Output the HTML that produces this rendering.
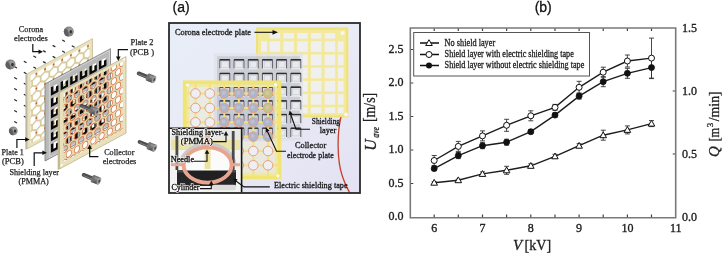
<!DOCTYPE html>
<html><head><meta charset="utf-8"><style>
html,body{margin:0;padding:0;background:#fff;}
body{width:725px;height:256px;overflow:hidden;position:relative;}
svg{position:absolute;left:0;top:0;}
.serif{font-family:"Liberation Serif",serif;}
.sans{font-family:"Liberation Sans","DejaVu Sans",sans-serif;}
</style></head><body>
<svg width="725" height="256" viewBox="0 0 725 256">
<rect width="725" height="256" fill="#fff"/>
<g id="diagram">
<g id="dots"><path d="M14.7,66.8L16.5,67.8" stroke="#2a2a2a" stroke-width="1.3" stroke-linecap="round"/><path d="M14.7,77.8L16.5,78.8" stroke="#2a2a2a" stroke-width="1.3" stroke-linecap="round"/><path d="M14.7,88.8L16.5,89.8" stroke="#2a2a2a" stroke-width="1.3" stroke-linecap="round"/><path d="M14.7,99.8L16.5,100.8" stroke="#2a2a2a" stroke-width="1.3" stroke-linecap="round"/><path d="M14.7,110.8L16.5,111.8" stroke="#2a2a2a" stroke-width="1.3" stroke-linecap="round"/><path d="M14.7,121.8L16.5,122.8" stroke="#2a2a2a" stroke-width="1.3" stroke-linecap="round"/><path d="M24.3,61.5L26.1,62.5" stroke="#2a2a2a" stroke-width="1.3" stroke-linecap="round"/><path d="M24.3,72.5L26.1,73.5" stroke="#2a2a2a" stroke-width="1.3" stroke-linecap="round"/><path d="M24.3,83.5L26.1,84.5" stroke="#2a2a2a" stroke-width="1.3" stroke-linecap="round"/><path d="M24.3,94.5L26.1,95.5" stroke="#2a2a2a" stroke-width="1.3" stroke-linecap="round"/><path d="M24.3,105.5L26.1,106.5" stroke="#2a2a2a" stroke-width="1.3" stroke-linecap="round"/><path d="M24.3,116.5L26.1,117.5" stroke="#2a2a2a" stroke-width="1.3" stroke-linecap="round"/><path d="M33.9,56.2L35.7,57.2" stroke="#2a2a2a" stroke-width="1.3" stroke-linecap="round"/><path d="M33.9,67.2L35.7,68.2" stroke="#2a2a2a" stroke-width="1.3" stroke-linecap="round"/><path d="M43.5,50.9L45.3,51.9" stroke="#2a2a2a" stroke-width="1.3" stroke-linecap="round"/><path d="M43.5,61.9L45.3,62.9" stroke="#2a2a2a" stroke-width="1.3" stroke-linecap="round"/><path d="M53.1,45.6L54.9,46.6" stroke="#2a2a2a" stroke-width="1.3" stroke-linecap="round"/><path d="M53.1,56.6L54.9,57.6" stroke="#2a2a2a" stroke-width="1.3" stroke-linecap="round"/><path d="M62.7,40.3L64.5,41.3" stroke="#2a2a2a" stroke-width="1.3" stroke-linecap="round"/><path d="M62.7,51.3L64.5,52.3" stroke="#2a2a2a" stroke-width="1.3" stroke-linecap="round"/><path d="M72.3,46.0L74.1,47.0" stroke="#2a2a2a" stroke-width="1.3" stroke-linecap="round"/></g>
<g><circle cx="68.8" cy="31.6" r="5.0" fill="#868686"/><path d="M63.80,31.60A5.0,5.0 0 0 0 68.80,36.60L68.50,30.60L64.80,28.60Z" fill="#5e5e5e"/><circle cx="70.30" cy="30.35" r="2.50" fill="#9c9c9c"/><ellipse cx="70.80" cy="31.70" rx="1.30" ry="1.70" fill="#333"/></g>
<g><circle cx="10.5" cy="64.4" r="5.0" fill="#868686"/><path d="M5.50,64.40A5.0,5.0 0 0 0 10.50,69.40L10.20,63.40L6.50,61.40Z" fill="#5e5e5e"/><circle cx="12.00" cy="63.15" r="2.50" fill="#9c9c9c"/><ellipse cx="12.50" cy="64.50" rx="1.30" ry="1.70" fill="#333"/></g>
<g><circle cx="13.3" cy="130.8" r="4.4" fill="#868686"/><path d="M8.90,130.80A4.4,4.4 0 0 0 13.30,135.20L13.00,129.92L9.78,128.16Z" fill="#5e5e5e"/><circle cx="14.62" cy="129.70" r="2.20" fill="#9c9c9c"/><ellipse cx="15.06" cy="130.90" rx="1.14" ry="1.50" fill="#333"/></g>
<g transform="matrix(1,-0.54,0,1,27,74)"><rect x="-1.6" y="0" width="1.6" height="75" fill="#b8b8b0"/><path d="M0,0H65.5V75H0Z M3.6,3.4V71.4H62.5V3.4Z" fill="#e9e1bc" fill-rule="evenodd"/><clipPath id="c1"><rect x="3.6" y="3.4" width="58.9" height="68.0"/></clipPath><g clip-path="url(#c1)" fill="none" stroke="#e6deb8" stroke-width="1.7"><polygon points="0.80,-7.35 5.10,-4.90 5.10,0.00 0.80,2.45 -3.50,0.00 -3.50,-4.90"/><polygon points="9.40,-7.35 13.70,-4.90 13.70,0.00 9.40,2.45 5.10,0.00 5.10,-4.90"/><polygon points="18.00,-7.35 22.30,-4.90 22.30,0.00 18.00,2.45 13.70,0.00 13.70,-4.90"/><polygon points="26.60,-7.35 30.90,-4.90 30.90,0.00 26.60,2.45 22.30,0.00 22.30,-4.90"/><polygon points="35.20,-7.35 39.50,-4.90 39.50,0.00 35.20,2.45 30.90,0.00 30.90,-4.90"/><polygon points="43.80,-7.35 48.10,-4.90 48.10,0.00 43.80,2.45 39.50,0.00 39.50,-4.90"/><polygon points="52.40,-7.35 56.70,-4.90 56.70,0.00 52.40,2.45 48.10,0.00 48.10,-4.90"/><polygon points="61.00,-7.35 65.30,-4.90 65.30,0.00 61.00,2.45 56.70,0.00 56.70,-4.90"/><polygon points="69.60,-7.35 73.90,-4.90 73.90,0.00 69.60,2.45 65.30,0.00 65.30,-4.90"/><polygon points="78.20,-7.35 82.50,-4.90 82.50,0.00 78.20,2.45 73.90,0.00 73.90,-4.90"/><polygon points="86.80,-7.35 91.10,-4.90 91.10,0.00 86.80,2.45 82.50,0.00 82.50,-4.90"/><polygon points="-3.50,0.00 0.80,2.45 0.80,7.35 -3.50,9.80 -7.80,7.35 -7.80,2.45"/><polygon points="5.10,0.00 9.40,2.45 9.40,7.35 5.10,9.80 0.80,7.35 0.80,2.45"/><polygon points="13.70,0.00 18.00,2.45 18.00,7.35 13.70,9.80 9.40,7.35 9.40,2.45"/><polygon points="22.30,0.00 26.60,2.45 26.60,7.35 22.30,9.80 18.00,7.35 18.00,2.45"/><polygon points="30.90,0.00 35.20,2.45 35.20,7.35 30.90,9.80 26.60,7.35 26.60,2.45"/><polygon points="39.50,0.00 43.80,2.45 43.80,7.35 39.50,9.80 35.20,7.35 35.20,2.45"/><polygon points="48.10,0.00 52.40,2.45 52.40,7.35 48.10,9.80 43.80,7.35 43.80,2.45"/><polygon points="56.70,0.00 61.00,2.45 61.00,7.35 56.70,9.80 52.40,7.35 52.40,2.45"/><polygon points="65.30,0.00 69.60,2.45 69.60,7.35 65.30,9.80 61.00,7.35 61.00,2.45"/><polygon points="73.90,0.00 78.20,2.45 78.20,7.35 73.90,9.80 69.60,7.35 69.60,2.45"/><polygon points="82.50,0.00 86.80,2.45 86.80,7.35 82.50,9.80 78.20,7.35 78.20,2.45"/><polygon points="0.80,7.35 5.10,9.80 5.10,14.70 0.80,17.15 -3.50,14.70 -3.50,9.80"/><polygon points="9.40,7.35 13.70,9.80 13.70,14.70 9.40,17.15 5.10,14.70 5.10,9.80"/><polygon points="18.00,7.35 22.30,9.80 22.30,14.70 18.00,17.15 13.70,14.70 13.70,9.80"/><polygon points="26.60,7.35 30.90,9.80 30.90,14.70 26.60,17.15 22.30,14.70 22.30,9.80"/><polygon points="35.20,7.35 39.50,9.80 39.50,14.70 35.20,17.15 30.90,14.70 30.90,9.80"/><polygon points="43.80,7.35 48.10,9.80 48.10,14.70 43.80,17.15 39.50,14.70 39.50,9.80"/><polygon points="52.40,7.35 56.70,9.80 56.70,14.70 52.40,17.15 48.10,14.70 48.10,9.80"/><polygon points="61.00,7.35 65.30,9.80 65.30,14.70 61.00,17.15 56.70,14.70 56.70,9.80"/><polygon points="69.60,7.35 73.90,9.80 73.90,14.70 69.60,17.15 65.30,14.70 65.30,9.80"/><polygon points="78.20,7.35 82.50,9.80 82.50,14.70 78.20,17.15 73.90,14.70 73.90,9.80"/><polygon points="86.80,7.35 91.10,9.80 91.10,14.70 86.80,17.15 82.50,14.70 82.50,9.80"/><polygon points="-3.50,14.70 0.80,17.15 0.80,22.05 -3.50,24.50 -7.80,22.05 -7.80,17.15"/><polygon points="5.10,14.70 9.40,17.15 9.40,22.05 5.10,24.50 0.80,22.05 0.80,17.15"/><polygon points="13.70,14.70 18.00,17.15 18.00,22.05 13.70,24.50 9.40,22.05 9.40,17.15"/><polygon points="22.30,14.70 26.60,17.15 26.60,22.05 22.30,24.50 18.00,22.05 18.00,17.15"/><polygon points="30.90,14.70 35.20,17.15 35.20,22.05 30.90,24.50 26.60,22.05 26.60,17.15"/><polygon points="39.50,14.70 43.80,17.15 43.80,22.05 39.50,24.50 35.20,22.05 35.20,17.15"/><polygon points="48.10,14.70 52.40,17.15 52.40,22.05 48.10,24.50 43.80,22.05 43.80,17.15"/><polygon points="56.70,14.70 61.00,17.15 61.00,22.05 56.70,24.50 52.40,22.05 52.40,17.15"/><polygon points="65.30,14.70 69.60,17.15 69.60,22.05 65.30,24.50 61.00,22.05 61.00,17.15"/><polygon points="73.90,14.70 78.20,17.15 78.20,22.05 73.90,24.50 69.60,22.05 69.60,17.15"/><polygon points="82.50,14.70 86.80,17.15 86.80,22.05 82.50,24.50 78.20,22.05 78.20,17.15"/><polygon points="0.80,22.05 5.10,24.50 5.10,29.40 0.80,31.85 -3.50,29.40 -3.50,24.50"/><polygon points="9.40,22.05 13.70,24.50 13.70,29.40 9.40,31.85 5.10,29.40 5.10,24.50"/><polygon points="18.00,22.05 22.30,24.50 22.30,29.40 18.00,31.85 13.70,29.40 13.70,24.50"/><polygon points="26.60,22.05 30.90,24.50 30.90,29.40 26.60,31.85 22.30,29.40 22.30,24.50"/><polygon points="35.20,22.05 39.50,24.50 39.50,29.40 35.20,31.85 30.90,29.40 30.90,24.50"/><polygon points="43.80,22.05 48.10,24.50 48.10,29.40 43.80,31.85 39.50,29.40 39.50,24.50"/><polygon points="52.40,22.05 56.70,24.50 56.70,29.40 52.40,31.85 48.10,29.40 48.10,24.50"/><polygon points="61.00,22.05 65.30,24.50 65.30,29.40 61.00,31.85 56.70,29.40 56.70,24.50"/><polygon points="69.60,22.05 73.90,24.50 73.90,29.40 69.60,31.85 65.30,29.40 65.30,24.50"/><polygon points="78.20,22.05 82.50,24.50 82.50,29.40 78.20,31.85 73.90,29.40 73.90,24.50"/><polygon points="86.80,22.05 91.10,24.50 91.10,29.40 86.80,31.85 82.50,29.40 82.50,24.50"/><polygon points="-3.50,29.40 0.80,31.85 0.80,36.75 -3.50,39.20 -7.80,36.75 -7.80,31.85"/><polygon points="5.10,29.40 9.40,31.85 9.40,36.75 5.10,39.20 0.80,36.75 0.80,31.85"/><polygon points="13.70,29.40 18.00,31.85 18.00,36.75 13.70,39.20 9.40,36.75 9.40,31.85"/><polygon points="22.30,29.40 26.60,31.85 26.60,36.75 22.30,39.20 18.00,36.75 18.00,31.85"/><polygon points="30.90,29.40 35.20,31.85 35.20,36.75 30.90,39.20 26.60,36.75 26.60,31.85"/><polygon points="39.50,29.40 43.80,31.85 43.80,36.75 39.50,39.20 35.20,36.75 35.20,31.85"/><polygon points="48.10,29.40 52.40,31.85 52.40,36.75 48.10,39.20 43.80,36.75 43.80,31.85"/><polygon points="56.70,29.40 61.00,31.85 61.00,36.75 56.70,39.20 52.40,36.75 52.40,31.85"/><polygon points="65.30,29.40 69.60,31.85 69.60,36.75 65.30,39.20 61.00,36.75 61.00,31.85"/><polygon points="73.90,29.40 78.20,31.85 78.20,36.75 73.90,39.20 69.60,36.75 69.60,31.85"/><polygon points="82.50,29.40 86.80,31.85 86.80,36.75 82.50,39.20 78.20,36.75 78.20,31.85"/><polygon points="0.80,36.75 5.10,39.20 5.10,44.10 0.80,46.55 -3.50,44.10 -3.50,39.20"/><polygon points="9.40,36.75 13.70,39.20 13.70,44.10 9.40,46.55 5.10,44.10 5.10,39.20"/><polygon points="18.00,36.75 22.30,39.20 22.30,44.10 18.00,46.55 13.70,44.10 13.70,39.20"/><polygon points="26.60,36.75 30.90,39.20 30.90,44.10 26.60,46.55 22.30,44.10 22.30,39.20"/><polygon points="35.20,36.75 39.50,39.20 39.50,44.10 35.20,46.55 30.90,44.10 30.90,39.20"/><polygon points="43.80,36.75 48.10,39.20 48.10,44.10 43.80,46.55 39.50,44.10 39.50,39.20"/><polygon points="52.40,36.75 56.70,39.20 56.70,44.10 52.40,46.55 48.10,44.10 48.10,39.20"/><polygon points="61.00,36.75 65.30,39.20 65.30,44.10 61.00,46.55 56.70,44.10 56.70,39.20"/><polygon points="69.60,36.75 73.90,39.20 73.90,44.10 69.60,46.55 65.30,44.10 65.30,39.20"/><polygon points="78.20,36.75 82.50,39.20 82.50,44.10 78.20,46.55 73.90,44.10 73.90,39.20"/><polygon points="86.80,36.75 91.10,39.20 91.10,44.10 86.80,46.55 82.50,44.10 82.50,39.20"/><polygon points="-3.50,44.10 0.80,46.55 0.80,51.45 -3.50,53.90 -7.80,51.45 -7.80,46.55"/><polygon points="5.10,44.10 9.40,46.55 9.40,51.45 5.10,53.90 0.80,51.45 0.80,46.55"/><polygon points="13.70,44.10 18.00,46.55 18.00,51.45 13.70,53.90 9.40,51.45 9.40,46.55"/><polygon points="22.30,44.10 26.60,46.55 26.60,51.45 22.30,53.90 18.00,51.45 18.00,46.55"/><polygon points="30.90,44.10 35.20,46.55 35.20,51.45 30.90,53.90 26.60,51.45 26.60,46.55"/><polygon points="39.50,44.10 43.80,46.55 43.80,51.45 39.50,53.90 35.20,51.45 35.20,46.55"/><polygon points="48.10,44.10 52.40,46.55 52.40,51.45 48.10,53.90 43.80,51.45 43.80,46.55"/><polygon points="56.70,44.10 61.00,46.55 61.00,51.45 56.70,53.90 52.40,51.45 52.40,46.55"/><polygon points="65.30,44.10 69.60,46.55 69.60,51.45 65.30,53.90 61.00,51.45 61.00,46.55"/><polygon points="73.90,44.10 78.20,46.55 78.20,51.45 73.90,53.90 69.60,51.45 69.60,46.55"/><polygon points="82.50,44.10 86.80,46.55 86.80,51.45 82.50,53.90 78.20,51.45 78.20,46.55"/><polygon points="0.80,51.45 5.10,53.90 5.10,58.80 0.80,61.25 -3.50,58.80 -3.50,53.90"/><polygon points="9.40,51.45 13.70,53.90 13.70,58.80 9.40,61.25 5.10,58.80 5.10,53.90"/><polygon points="18.00,51.45 22.30,53.90 22.30,58.80 18.00,61.25 13.70,58.80 13.70,53.90"/><polygon points="26.60,51.45 30.90,53.90 30.90,58.80 26.60,61.25 22.30,58.80 22.30,53.90"/><polygon points="35.20,51.45 39.50,53.90 39.50,58.80 35.20,61.25 30.90,58.80 30.90,53.90"/><polygon points="43.80,51.45 48.10,53.90 48.10,58.80 43.80,61.25 39.50,58.80 39.50,53.90"/><polygon points="52.40,51.45 56.70,53.90 56.70,58.80 52.40,61.25 48.10,58.80 48.10,53.90"/><polygon points="61.00,51.45 65.30,53.90 65.30,58.80 61.00,61.25 56.70,58.80 56.70,53.90"/><polygon points="69.60,51.45 73.90,53.90 73.90,58.80 69.60,61.25 65.30,58.80 65.30,53.90"/><polygon points="78.20,51.45 82.50,53.90 82.50,58.80 78.20,61.25 73.90,58.80 73.90,53.90"/><polygon points="86.80,51.45 91.10,53.90 91.10,58.80 86.80,61.25 82.50,58.80 82.50,53.90"/><polygon points="-3.50,58.80 0.80,61.25 0.80,66.15 -3.50,68.60 -7.80,66.15 -7.80,61.25"/><polygon points="5.10,58.80 9.40,61.25 9.40,66.15 5.10,68.60 0.80,66.15 0.80,61.25"/><polygon points="13.70,58.80 18.00,61.25 18.00,66.15 13.70,68.60 9.40,66.15 9.40,61.25"/><polygon points="22.30,58.80 26.60,61.25 26.60,66.15 22.30,68.60 18.00,66.15 18.00,61.25"/><polygon points="30.90,58.80 35.20,61.25 35.20,66.15 30.90,68.60 26.60,66.15 26.60,61.25"/><polygon points="39.50,58.80 43.80,61.25 43.80,66.15 39.50,68.60 35.20,66.15 35.20,61.25"/><polygon points="48.10,58.80 52.40,61.25 52.40,66.15 48.10,68.60 43.80,66.15 43.80,61.25"/><polygon points="56.70,58.80 61.00,61.25 61.00,66.15 56.70,68.60 52.40,66.15 52.40,61.25"/><polygon points="65.30,58.80 69.60,61.25 69.60,66.15 65.30,68.60 61.00,66.15 61.00,61.25"/><polygon points="73.90,58.80 78.20,61.25 78.20,66.15 73.90,68.60 69.60,66.15 69.60,61.25"/><polygon points="82.50,58.80 86.80,61.25 86.80,66.15 82.50,68.60 78.20,66.15 78.20,61.25"/><polygon points="0.80,66.15 5.10,68.60 5.10,73.50 0.80,75.95 -3.50,73.50 -3.50,68.60"/><polygon points="9.40,66.15 13.70,68.60 13.70,73.50 9.40,75.95 5.10,73.50 5.10,68.60"/><polygon points="18.00,66.15 22.30,68.60 22.30,73.50 18.00,75.95 13.70,73.50 13.70,68.60"/><polygon points="26.60,66.15 30.90,68.60 30.90,73.50 26.60,75.95 22.30,73.50 22.30,68.60"/><polygon points="35.20,66.15 39.50,68.60 39.50,73.50 35.20,75.95 30.90,73.50 30.90,68.60"/><polygon points="43.80,66.15 48.10,68.60 48.10,73.50 43.80,75.95 39.50,73.50 39.50,68.60"/><polygon points="52.40,66.15 56.70,68.60 56.70,73.50 52.40,75.95 48.10,73.50 48.10,68.60"/><polygon points="61.00,66.15 65.30,68.60 65.30,73.50 61.00,75.95 56.70,73.50 56.70,68.60"/><polygon points="69.60,66.15 73.90,68.60 73.90,73.50 69.60,75.95 65.30,73.50 65.30,68.60"/><polygon points="78.20,66.15 82.50,68.60 82.50,73.50 78.20,75.95 73.90,73.50 73.90,68.60"/><polygon points="86.80,66.15 91.10,68.60 91.10,73.50 86.80,75.95 82.50,73.50 82.50,68.60"/><polygon points="-3.50,73.50 0.80,75.95 0.80,80.85 -3.50,83.30 -7.80,80.85 -7.80,75.95"/><polygon points="5.10,73.50 9.40,75.95 9.40,80.85 5.10,83.30 0.80,80.85 0.80,75.95"/><polygon points="13.70,73.50 18.00,75.95 18.00,80.85 13.70,83.30 9.40,80.85 9.40,75.95"/><polygon points="22.30,73.50 26.60,75.95 26.60,80.85 22.30,83.30 18.00,80.85 18.00,75.95"/><polygon points="30.90,73.50 35.20,75.95 35.20,80.85 30.90,83.30 26.60,80.85 26.60,75.95"/><polygon points="39.50,73.50 43.80,75.95 43.80,80.85 39.50,83.30 35.20,80.85 35.20,75.95"/><polygon points="48.10,73.50 52.40,75.95 52.40,80.85 48.10,83.30 43.80,80.85 43.80,75.95"/><polygon points="56.70,73.50 61.00,75.95 61.00,80.85 56.70,83.30 52.40,80.85 52.40,75.95"/><polygon points="65.30,73.50 69.60,75.95 69.60,80.85 65.30,83.30 61.00,80.85 61.00,75.95"/><polygon points="73.90,73.50 78.20,75.95 78.20,80.85 73.90,83.30 69.60,80.85 69.60,75.95"/><polygon points="82.50,73.50 86.80,75.95 86.80,80.85 82.50,83.30 78.20,80.85 78.20,75.95"/><polygon points="0.80,80.85 5.10,83.30 5.10,88.20 0.80,90.65 -3.50,88.20 -3.50,83.30"/><polygon points="9.40,80.85 13.70,83.30 13.70,88.20 9.40,90.65 5.10,88.20 5.10,83.30"/><polygon points="18.00,80.85 22.30,83.30 22.30,88.20 18.00,90.65 13.70,88.20 13.70,83.30"/><polygon points="26.60,80.85 30.90,83.30 30.90,88.20 26.60,90.65 22.30,88.20 22.30,83.30"/><polygon points="35.20,80.85 39.50,83.30 39.50,88.20 35.20,90.65 30.90,88.20 30.90,83.30"/><polygon points="43.80,80.85 48.10,83.30 48.10,88.20 43.80,90.65 39.50,88.20 39.50,83.30"/><polygon points="52.40,80.85 56.70,83.30 56.70,88.20 52.40,90.65 48.10,88.20 48.10,83.30"/><polygon points="61.00,80.85 65.30,83.30 65.30,88.20 61.00,90.65 56.70,88.20 56.70,83.30"/><polygon points="69.60,80.85 73.90,83.30 73.90,88.20 69.60,90.65 65.30,88.20 65.30,83.30"/><polygon points="78.20,80.85 82.50,83.30 82.50,88.20 78.20,90.65 73.90,88.20 73.90,83.30"/><polygon points="86.80,80.85 91.10,83.30 91.10,88.20 86.80,90.65 82.50,88.20 82.50,83.30"/><polygon points="-3.50,88.20 0.80,90.65 0.80,95.55 -3.50,98.00 -7.80,95.55 -7.80,90.65"/><polygon points="5.10,88.20 9.40,90.65 9.40,95.55 5.10,98.00 0.80,95.55 0.80,90.65"/><polygon points="13.70,88.20 18.00,90.65 18.00,95.55 13.70,98.00 9.40,95.55 9.40,90.65"/><polygon points="22.30,88.20 26.60,90.65 26.60,95.55 22.30,98.00 18.00,95.55 18.00,90.65"/><polygon points="30.90,88.20 35.20,90.65 35.20,95.55 30.90,98.00 26.60,95.55 26.60,90.65"/><polygon points="39.50,88.20 43.80,90.65 43.80,95.55 39.50,98.00 35.20,95.55 35.20,90.65"/><polygon points="48.10,88.20 52.40,90.65 52.40,95.55 48.10,98.00 43.80,95.55 43.80,90.65"/><polygon points="56.70,88.20 61.00,90.65 61.00,95.55 56.70,98.00 52.40,95.55 52.40,90.65"/><polygon points="65.30,88.20 69.60,90.65 69.60,95.55 65.30,98.00 61.00,95.55 61.00,90.65"/><polygon points="73.90,88.20 78.20,90.65 78.20,95.55 73.90,98.00 69.60,95.55 69.60,90.65"/><polygon points="82.50,88.20 86.80,90.65 86.80,95.55 82.50,98.00 78.20,95.55 78.20,90.65"/><polygon points="0.80,95.55 5.10,98.00 5.10,102.90 0.80,105.35 -3.50,102.90 -3.50,98.00"/><polygon points="9.40,95.55 13.70,98.00 13.70,102.90 9.40,105.35 5.10,102.90 5.10,98.00"/><polygon points="18.00,95.55 22.30,98.00 22.30,102.90 18.00,105.35 13.70,102.90 13.70,98.00"/><polygon points="26.60,95.55 30.90,98.00 30.90,102.90 26.60,105.35 22.30,102.90 22.30,98.00"/><polygon points="35.20,95.55 39.50,98.00 39.50,102.90 35.20,105.35 30.90,102.90 30.90,98.00"/><polygon points="43.80,95.55 48.10,98.00 48.10,102.90 43.80,105.35 39.50,102.90 39.50,98.00"/><polygon points="52.40,95.55 56.70,98.00 56.70,102.90 52.40,105.35 48.10,102.90 48.10,98.00"/><polygon points="61.00,95.55 65.30,98.00 65.30,102.90 61.00,105.35 56.70,102.90 56.70,98.00"/><polygon points="69.60,95.55 73.90,98.00 73.90,102.90 69.60,105.35 65.30,102.90 65.30,98.00"/><polygon points="78.20,95.55 82.50,98.00 82.50,102.90 78.20,105.35 73.90,102.90 73.90,98.00"/><polygon points="86.80,95.55 91.10,98.00 91.10,102.90 86.80,105.35 82.50,102.90 82.50,98.00"/></g><g clip-path="url(#c1)" fill="none" stroke="#cbbf92" stroke-width="0.35"><polygon points="0.80,-7.35 5.10,-4.90 5.10,0.00 0.80,2.45 -3.50,0.00 -3.50,-4.90"/><polygon points="9.40,-7.35 13.70,-4.90 13.70,0.00 9.40,2.45 5.10,0.00 5.10,-4.90"/><polygon points="18.00,-7.35 22.30,-4.90 22.30,0.00 18.00,2.45 13.70,0.00 13.70,-4.90"/><polygon points="26.60,-7.35 30.90,-4.90 30.90,0.00 26.60,2.45 22.30,0.00 22.30,-4.90"/><polygon points="35.20,-7.35 39.50,-4.90 39.50,0.00 35.20,2.45 30.90,0.00 30.90,-4.90"/><polygon points="43.80,-7.35 48.10,-4.90 48.10,0.00 43.80,2.45 39.50,0.00 39.50,-4.90"/><polygon points="52.40,-7.35 56.70,-4.90 56.70,0.00 52.40,2.45 48.10,0.00 48.10,-4.90"/><polygon points="61.00,-7.35 65.30,-4.90 65.30,0.00 61.00,2.45 56.70,0.00 56.70,-4.90"/><polygon points="69.60,-7.35 73.90,-4.90 73.90,0.00 69.60,2.45 65.30,0.00 65.30,-4.90"/><polygon points="78.20,-7.35 82.50,-4.90 82.50,0.00 78.20,2.45 73.90,0.00 73.90,-4.90"/><polygon points="86.80,-7.35 91.10,-4.90 91.10,0.00 86.80,2.45 82.50,0.00 82.50,-4.90"/><polygon points="-3.50,0.00 0.80,2.45 0.80,7.35 -3.50,9.80 -7.80,7.35 -7.80,2.45"/><polygon points="5.10,0.00 9.40,2.45 9.40,7.35 5.10,9.80 0.80,7.35 0.80,2.45"/><polygon points="13.70,0.00 18.00,2.45 18.00,7.35 13.70,9.80 9.40,7.35 9.40,2.45"/><polygon points="22.30,0.00 26.60,2.45 26.60,7.35 22.30,9.80 18.00,7.35 18.00,2.45"/><polygon points="30.90,0.00 35.20,2.45 35.20,7.35 30.90,9.80 26.60,7.35 26.60,2.45"/><polygon points="39.50,0.00 43.80,2.45 43.80,7.35 39.50,9.80 35.20,7.35 35.20,2.45"/><polygon points="48.10,0.00 52.40,2.45 52.40,7.35 48.10,9.80 43.80,7.35 43.80,2.45"/><polygon points="56.70,0.00 61.00,2.45 61.00,7.35 56.70,9.80 52.40,7.35 52.40,2.45"/><polygon points="65.30,0.00 69.60,2.45 69.60,7.35 65.30,9.80 61.00,7.35 61.00,2.45"/><polygon points="73.90,0.00 78.20,2.45 78.20,7.35 73.90,9.80 69.60,7.35 69.60,2.45"/><polygon points="82.50,0.00 86.80,2.45 86.80,7.35 82.50,9.80 78.20,7.35 78.20,2.45"/><polygon points="0.80,7.35 5.10,9.80 5.10,14.70 0.80,17.15 -3.50,14.70 -3.50,9.80"/><polygon points="9.40,7.35 13.70,9.80 13.70,14.70 9.40,17.15 5.10,14.70 5.10,9.80"/><polygon points="18.00,7.35 22.30,9.80 22.30,14.70 18.00,17.15 13.70,14.70 13.70,9.80"/><polygon points="26.60,7.35 30.90,9.80 30.90,14.70 26.60,17.15 22.30,14.70 22.30,9.80"/><polygon points="35.20,7.35 39.50,9.80 39.50,14.70 35.20,17.15 30.90,14.70 30.90,9.80"/><polygon points="43.80,7.35 48.10,9.80 48.10,14.70 43.80,17.15 39.50,14.70 39.50,9.80"/><polygon points="52.40,7.35 56.70,9.80 56.70,14.70 52.40,17.15 48.10,14.70 48.10,9.80"/><polygon points="61.00,7.35 65.30,9.80 65.30,14.70 61.00,17.15 56.70,14.70 56.70,9.80"/><polygon points="69.60,7.35 73.90,9.80 73.90,14.70 69.60,17.15 65.30,14.70 65.30,9.80"/><polygon points="78.20,7.35 82.50,9.80 82.50,14.70 78.20,17.15 73.90,14.70 73.90,9.80"/><polygon points="86.80,7.35 91.10,9.80 91.10,14.70 86.80,17.15 82.50,14.70 82.50,9.80"/><polygon points="-3.50,14.70 0.80,17.15 0.80,22.05 -3.50,24.50 -7.80,22.05 -7.80,17.15"/><polygon points="5.10,14.70 9.40,17.15 9.40,22.05 5.10,24.50 0.80,22.05 0.80,17.15"/><polygon points="13.70,14.70 18.00,17.15 18.00,22.05 13.70,24.50 9.40,22.05 9.40,17.15"/><polygon points="22.30,14.70 26.60,17.15 26.60,22.05 22.30,24.50 18.00,22.05 18.00,17.15"/><polygon points="30.90,14.70 35.20,17.15 35.20,22.05 30.90,24.50 26.60,22.05 26.60,17.15"/><polygon points="39.50,14.70 43.80,17.15 43.80,22.05 39.50,24.50 35.20,22.05 35.20,17.15"/><polygon points="48.10,14.70 52.40,17.15 52.40,22.05 48.10,24.50 43.80,22.05 43.80,17.15"/><polygon points="56.70,14.70 61.00,17.15 61.00,22.05 56.70,24.50 52.40,22.05 52.40,17.15"/><polygon points="65.30,14.70 69.60,17.15 69.60,22.05 65.30,24.50 61.00,22.05 61.00,17.15"/><polygon points="73.90,14.70 78.20,17.15 78.20,22.05 73.90,24.50 69.60,22.05 69.60,17.15"/><polygon points="82.50,14.70 86.80,17.15 86.80,22.05 82.50,24.50 78.20,22.05 78.20,17.15"/><polygon points="0.80,22.05 5.10,24.50 5.10,29.40 0.80,31.85 -3.50,29.40 -3.50,24.50"/><polygon points="9.40,22.05 13.70,24.50 13.70,29.40 9.40,31.85 5.10,29.40 5.10,24.50"/><polygon points="18.00,22.05 22.30,24.50 22.30,29.40 18.00,31.85 13.70,29.40 13.70,24.50"/><polygon points="26.60,22.05 30.90,24.50 30.90,29.40 26.60,31.85 22.30,29.40 22.30,24.50"/><polygon points="35.20,22.05 39.50,24.50 39.50,29.40 35.20,31.85 30.90,29.40 30.90,24.50"/><polygon points="43.80,22.05 48.10,24.50 48.10,29.40 43.80,31.85 39.50,29.40 39.50,24.50"/><polygon points="52.40,22.05 56.70,24.50 56.70,29.40 52.40,31.85 48.10,29.40 48.10,24.50"/><polygon points="61.00,22.05 65.30,24.50 65.30,29.40 61.00,31.85 56.70,29.40 56.70,24.50"/><polygon points="69.60,22.05 73.90,24.50 73.90,29.40 69.60,31.85 65.30,29.40 65.30,24.50"/><polygon points="78.20,22.05 82.50,24.50 82.50,29.40 78.20,31.85 73.90,29.40 73.90,24.50"/><polygon points="86.80,22.05 91.10,24.50 91.10,29.40 86.80,31.85 82.50,29.40 82.50,24.50"/><polygon points="-3.50,29.40 0.80,31.85 0.80,36.75 -3.50,39.20 -7.80,36.75 -7.80,31.85"/><polygon points="5.10,29.40 9.40,31.85 9.40,36.75 5.10,39.20 0.80,36.75 0.80,31.85"/><polygon points="13.70,29.40 18.00,31.85 18.00,36.75 13.70,39.20 9.40,36.75 9.40,31.85"/><polygon points="22.30,29.40 26.60,31.85 26.60,36.75 22.30,39.20 18.00,36.75 18.00,31.85"/><polygon points="30.90,29.40 35.20,31.85 35.20,36.75 30.90,39.20 26.60,36.75 26.60,31.85"/><polygon points="39.50,29.40 43.80,31.85 43.80,36.75 39.50,39.20 35.20,36.75 35.20,31.85"/><polygon points="48.10,29.40 52.40,31.85 52.40,36.75 48.10,39.20 43.80,36.75 43.80,31.85"/><polygon points="56.70,29.40 61.00,31.85 61.00,36.75 56.70,39.20 52.40,36.75 52.40,31.85"/><polygon points="65.30,29.40 69.60,31.85 69.60,36.75 65.30,39.20 61.00,36.75 61.00,31.85"/><polygon points="73.90,29.40 78.20,31.85 78.20,36.75 73.90,39.20 69.60,36.75 69.60,31.85"/><polygon points="82.50,29.40 86.80,31.85 86.80,36.75 82.50,39.20 78.20,36.75 78.20,31.85"/><polygon points="0.80,36.75 5.10,39.20 5.10,44.10 0.80,46.55 -3.50,44.10 -3.50,39.20"/><polygon points="9.40,36.75 13.70,39.20 13.70,44.10 9.40,46.55 5.10,44.10 5.10,39.20"/><polygon points="18.00,36.75 22.30,39.20 22.30,44.10 18.00,46.55 13.70,44.10 13.70,39.20"/><polygon points="26.60,36.75 30.90,39.20 30.90,44.10 26.60,46.55 22.30,44.10 22.30,39.20"/><polygon points="35.20,36.75 39.50,39.20 39.50,44.10 35.20,46.55 30.90,44.10 30.90,39.20"/><polygon points="43.80,36.75 48.10,39.20 48.10,44.10 43.80,46.55 39.50,44.10 39.50,39.20"/><polygon points="52.40,36.75 56.70,39.20 56.70,44.10 52.40,46.55 48.10,44.10 48.10,39.20"/><polygon points="61.00,36.75 65.30,39.20 65.30,44.10 61.00,46.55 56.70,44.10 56.70,39.20"/><polygon points="69.60,36.75 73.90,39.20 73.90,44.10 69.60,46.55 65.30,44.10 65.30,39.20"/><polygon points="78.20,36.75 82.50,39.20 82.50,44.10 78.20,46.55 73.90,44.10 73.90,39.20"/><polygon points="86.80,36.75 91.10,39.20 91.10,44.10 86.80,46.55 82.50,44.10 82.50,39.20"/><polygon points="-3.50,44.10 0.80,46.55 0.80,51.45 -3.50,53.90 -7.80,51.45 -7.80,46.55"/><polygon points="5.10,44.10 9.40,46.55 9.40,51.45 5.10,53.90 0.80,51.45 0.80,46.55"/><polygon points="13.70,44.10 18.00,46.55 18.00,51.45 13.70,53.90 9.40,51.45 9.40,46.55"/><polygon points="22.30,44.10 26.60,46.55 26.60,51.45 22.30,53.90 18.00,51.45 18.00,46.55"/><polygon points="30.90,44.10 35.20,46.55 35.20,51.45 30.90,53.90 26.60,51.45 26.60,46.55"/><polygon points="39.50,44.10 43.80,46.55 43.80,51.45 39.50,53.90 35.20,51.45 35.20,46.55"/><polygon points="48.10,44.10 52.40,46.55 52.40,51.45 48.10,53.90 43.80,51.45 43.80,46.55"/><polygon points="56.70,44.10 61.00,46.55 61.00,51.45 56.70,53.90 52.40,51.45 52.40,46.55"/><polygon points="65.30,44.10 69.60,46.55 69.60,51.45 65.30,53.90 61.00,51.45 61.00,46.55"/><polygon points="73.90,44.10 78.20,46.55 78.20,51.45 73.90,53.90 69.60,51.45 69.60,46.55"/><polygon points="82.50,44.10 86.80,46.55 86.80,51.45 82.50,53.90 78.20,51.45 78.20,46.55"/><polygon points="0.80,51.45 5.10,53.90 5.10,58.80 0.80,61.25 -3.50,58.80 -3.50,53.90"/><polygon points="9.40,51.45 13.70,53.90 13.70,58.80 9.40,61.25 5.10,58.80 5.10,53.90"/><polygon points="18.00,51.45 22.30,53.90 22.30,58.80 18.00,61.25 13.70,58.80 13.70,53.90"/><polygon points="26.60,51.45 30.90,53.90 30.90,58.80 26.60,61.25 22.30,58.80 22.30,53.90"/><polygon points="35.20,51.45 39.50,53.90 39.50,58.80 35.20,61.25 30.90,58.80 30.90,53.90"/><polygon points="43.80,51.45 48.10,53.90 48.10,58.80 43.80,61.25 39.50,58.80 39.50,53.90"/><polygon points="52.40,51.45 56.70,53.90 56.70,58.80 52.40,61.25 48.10,58.80 48.10,53.90"/><polygon points="61.00,51.45 65.30,53.90 65.30,58.80 61.00,61.25 56.70,58.80 56.70,53.90"/><polygon points="69.60,51.45 73.90,53.90 73.90,58.80 69.60,61.25 65.30,58.80 65.30,53.90"/><polygon points="78.20,51.45 82.50,53.90 82.50,58.80 78.20,61.25 73.90,58.80 73.90,53.90"/><polygon points="86.80,51.45 91.10,53.90 91.10,58.80 86.80,61.25 82.50,58.80 82.50,53.90"/><polygon points="-3.50,58.80 0.80,61.25 0.80,66.15 -3.50,68.60 -7.80,66.15 -7.80,61.25"/><polygon points="5.10,58.80 9.40,61.25 9.40,66.15 5.10,68.60 0.80,66.15 0.80,61.25"/><polygon points="13.70,58.80 18.00,61.25 18.00,66.15 13.70,68.60 9.40,66.15 9.40,61.25"/><polygon points="22.30,58.80 26.60,61.25 26.60,66.15 22.30,68.60 18.00,66.15 18.00,61.25"/><polygon points="30.90,58.80 35.20,61.25 35.20,66.15 30.90,68.60 26.60,66.15 26.60,61.25"/><polygon points="39.50,58.80 43.80,61.25 43.80,66.15 39.50,68.60 35.20,66.15 35.20,61.25"/><polygon points="48.10,58.80 52.40,61.25 52.40,66.15 48.10,68.60 43.80,66.15 43.80,61.25"/><polygon points="56.70,58.80 61.00,61.25 61.00,66.15 56.70,68.60 52.40,66.15 52.40,61.25"/><polygon points="65.30,58.80 69.60,61.25 69.60,66.15 65.30,68.60 61.00,66.15 61.00,61.25"/><polygon points="73.90,58.80 78.20,61.25 78.20,66.15 73.90,68.60 69.60,66.15 69.60,61.25"/><polygon points="82.50,58.80 86.80,61.25 86.80,66.15 82.50,68.60 78.20,66.15 78.20,61.25"/><polygon points="0.80,66.15 5.10,68.60 5.10,73.50 0.80,75.95 -3.50,73.50 -3.50,68.60"/><polygon points="9.40,66.15 13.70,68.60 13.70,73.50 9.40,75.95 5.10,73.50 5.10,68.60"/><polygon points="18.00,66.15 22.30,68.60 22.30,73.50 18.00,75.95 13.70,73.50 13.70,68.60"/><polygon points="26.60,66.15 30.90,68.60 30.90,73.50 26.60,75.95 22.30,73.50 22.30,68.60"/><polygon points="35.20,66.15 39.50,68.60 39.50,73.50 35.20,75.95 30.90,73.50 30.90,68.60"/><polygon points="43.80,66.15 48.10,68.60 48.10,73.50 43.80,75.95 39.50,73.50 39.50,68.60"/><polygon points="52.40,66.15 56.70,68.60 56.70,73.50 52.40,75.95 48.10,73.50 48.10,68.60"/><polygon points="61.00,66.15 65.30,68.60 65.30,73.50 61.00,75.95 56.70,73.50 56.70,68.60"/><polygon points="69.60,66.15 73.90,68.60 73.90,73.50 69.60,75.95 65.30,73.50 65.30,68.60"/><polygon points="78.20,66.15 82.50,68.60 82.50,73.50 78.20,75.95 73.90,73.50 73.90,68.60"/><polygon points="86.80,66.15 91.10,68.60 91.10,73.50 86.80,75.95 82.50,73.50 82.50,68.60"/><polygon points="-3.50,73.50 0.80,75.95 0.80,80.85 -3.50,83.30 -7.80,80.85 -7.80,75.95"/><polygon points="5.10,73.50 9.40,75.95 9.40,80.85 5.10,83.30 0.80,80.85 0.80,75.95"/><polygon points="13.70,73.50 18.00,75.95 18.00,80.85 13.70,83.30 9.40,80.85 9.40,75.95"/><polygon points="22.30,73.50 26.60,75.95 26.60,80.85 22.30,83.30 18.00,80.85 18.00,75.95"/><polygon points="30.90,73.50 35.20,75.95 35.20,80.85 30.90,83.30 26.60,80.85 26.60,75.95"/><polygon points="39.50,73.50 43.80,75.95 43.80,80.85 39.50,83.30 35.20,80.85 35.20,75.95"/><polygon points="48.10,73.50 52.40,75.95 52.40,80.85 48.10,83.30 43.80,80.85 43.80,75.95"/><polygon points="56.70,73.50 61.00,75.95 61.00,80.85 56.70,83.30 52.40,80.85 52.40,75.95"/><polygon points="65.30,73.50 69.60,75.95 69.60,80.85 65.30,83.30 61.00,80.85 61.00,75.95"/><polygon points="73.90,73.50 78.20,75.95 78.20,80.85 73.90,83.30 69.60,80.85 69.60,75.95"/><polygon points="82.50,73.50 86.80,75.95 86.80,80.85 82.50,83.30 78.20,80.85 78.20,75.95"/><polygon points="0.80,80.85 5.10,83.30 5.10,88.20 0.80,90.65 -3.50,88.20 -3.50,83.30"/><polygon points="9.40,80.85 13.70,83.30 13.70,88.20 9.40,90.65 5.10,88.20 5.10,83.30"/><polygon points="18.00,80.85 22.30,83.30 22.30,88.20 18.00,90.65 13.70,88.20 13.70,83.30"/><polygon points="26.60,80.85 30.90,83.30 30.90,88.20 26.60,90.65 22.30,88.20 22.30,83.30"/><polygon points="35.20,80.85 39.50,83.30 39.50,88.20 35.20,90.65 30.90,88.20 30.90,83.30"/><polygon points="43.80,80.85 48.10,83.30 48.10,88.20 43.80,90.65 39.50,88.20 39.50,83.30"/><polygon points="52.40,80.85 56.70,83.30 56.70,88.20 52.40,90.65 48.10,88.20 48.10,83.30"/><polygon points="61.00,80.85 65.30,83.30 65.30,88.20 61.00,90.65 56.70,88.20 56.70,83.30"/><polygon points="69.60,80.85 73.90,83.30 73.90,88.20 69.60,90.65 65.30,88.20 65.30,83.30"/><polygon points="78.20,80.85 82.50,83.30 82.50,88.20 78.20,90.65 73.90,88.20 73.90,83.30"/><polygon points="86.80,80.85 91.10,83.30 91.10,88.20 86.80,90.65 82.50,88.20 82.50,83.30"/><polygon points="-3.50,88.20 0.80,90.65 0.80,95.55 -3.50,98.00 -7.80,95.55 -7.80,90.65"/><polygon points="5.10,88.20 9.40,90.65 9.40,95.55 5.10,98.00 0.80,95.55 0.80,90.65"/><polygon points="13.70,88.20 18.00,90.65 18.00,95.55 13.70,98.00 9.40,95.55 9.40,90.65"/><polygon points="22.30,88.20 26.60,90.65 26.60,95.55 22.30,98.00 18.00,95.55 18.00,90.65"/><polygon points="30.90,88.20 35.20,90.65 35.20,95.55 30.90,98.00 26.60,95.55 26.60,90.65"/><polygon points="39.50,88.20 43.80,90.65 43.80,95.55 39.50,98.00 35.20,95.55 35.20,90.65"/><polygon points="48.10,88.20 52.40,90.65 52.40,95.55 48.10,98.00 43.80,95.55 43.80,90.65"/><polygon points="56.70,88.20 61.00,90.65 61.00,95.55 56.70,98.00 52.40,95.55 52.40,90.65"/><polygon points="65.30,88.20 69.60,90.65 69.60,95.55 65.30,98.00 61.00,95.55 61.00,90.65"/><polygon points="73.90,88.20 78.20,90.65 78.20,95.55 73.90,98.00 69.60,95.55 69.60,90.65"/><polygon points="82.50,88.20 86.80,90.65 86.80,95.55 82.50,98.00 78.20,95.55 78.20,90.65"/><polygon points="0.80,95.55 5.10,98.00 5.10,102.90 0.80,105.35 -3.50,102.90 -3.50,98.00"/><polygon points="9.40,95.55 13.70,98.00 13.70,102.90 9.40,105.35 5.10,102.90 5.10,98.00"/><polygon points="18.00,95.55 22.30,98.00 22.30,102.90 18.00,105.35 13.70,102.90 13.70,98.00"/><polygon points="26.60,95.55 30.90,98.00 30.90,102.90 26.60,105.35 22.30,102.90 22.30,98.00"/><polygon points="35.20,95.55 39.50,98.00 39.50,102.90 35.20,105.35 30.90,102.90 30.90,98.00"/><polygon points="43.80,95.55 48.10,98.00 48.10,102.90 43.80,105.35 39.50,102.90 39.50,98.00"/><polygon points="52.40,95.55 56.70,98.00 56.70,102.90 52.40,105.35 48.10,102.90 48.10,98.00"/><polygon points="61.00,95.55 65.30,98.00 65.30,102.90 61.00,105.35 56.70,102.90 56.70,98.00"/><polygon points="69.60,95.55 73.90,98.00 73.90,102.90 69.60,105.35 65.30,102.90 65.30,98.00"/><polygon points="78.20,95.55 82.50,98.00 82.50,102.90 78.20,105.35 73.90,102.90 73.90,98.00"/><polygon points="86.80,95.55 91.10,98.00 91.10,102.90 86.80,105.35 82.50,102.90 82.50,98.00"/></g><g clip-path="url(#c1)"><rect x="8.60" y="4.00" width="1.6" height="1.8" fill="#d4553a"/><rect x="17.20" y="4.00" width="1.6" height="1.8" fill="#d4553a"/><rect x="25.80" y="4.00" width="1.6" height="1.8" fill="#d4553a"/><rect x="34.40" y="4.00" width="1.6" height="1.8" fill="#d4553a"/><rect x="43.00" y="4.00" width="1.6" height="1.8" fill="#d4553a"/><rect x="51.60" y="4.00" width="1.6" height="1.8" fill="#d4553a"/><rect x="60.20" y="4.00" width="1.6" height="1.8" fill="#d4553a"/><rect x="8.60" y="18.70" width="1.6" height="1.8" fill="#d4553a"/><rect x="17.20" y="18.70" width="1.6" height="1.8" fill="#d4553a"/><rect x="25.80" y="18.70" width="1.6" height="1.8" fill="#d4553a"/><rect x="34.40" y="18.70" width="1.6" height="1.8" fill="#d4553a"/><rect x="43.00" y="18.70" width="1.6" height="1.8" fill="#d4553a"/><rect x="51.60" y="18.70" width="1.6" height="1.8" fill="#d4553a"/><rect x="60.20" y="18.70" width="1.6" height="1.8" fill="#d4553a"/><rect x="8.60" y="33.40" width="1.6" height="1.8" fill="#d4553a"/><rect x="17.20" y="33.40" width="1.6" height="1.8" fill="#d4553a"/><rect x="25.80" y="33.40" width="1.6" height="1.8" fill="#d4553a"/><rect x="34.40" y="33.40" width="1.6" height="1.8" fill="#d4553a"/><rect x="43.00" y="33.40" width="1.6" height="1.8" fill="#d4553a"/><rect x="51.60" y="33.40" width="1.6" height="1.8" fill="#d4553a"/><rect x="60.20" y="33.40" width="1.6" height="1.8" fill="#d4553a"/><rect x="8.60" y="48.10" width="1.6" height="1.8" fill="#d4553a"/><rect x="17.20" y="48.10" width="1.6" height="1.8" fill="#d4553a"/><rect x="25.80" y="48.10" width="1.6" height="1.8" fill="#d4553a"/><rect x="34.40" y="48.10" width="1.6" height="1.8" fill="#d4553a"/><rect x="43.00" y="48.10" width="1.6" height="1.8" fill="#d4553a"/><rect x="51.60" y="48.10" width="1.6" height="1.8" fill="#d4553a"/><rect x="60.20" y="48.10" width="1.6" height="1.8" fill="#d4553a"/><rect x="8.60" y="62.80" width="1.6" height="1.8" fill="#d4553a"/><rect x="17.20" y="62.80" width="1.6" height="1.8" fill="#d4553a"/><rect x="25.80" y="62.80" width="1.6" height="1.8" fill="#d4553a"/><rect x="34.40" y="62.80" width="1.6" height="1.8" fill="#d4553a"/><rect x="43.00" y="62.80" width="1.6" height="1.8" fill="#d4553a"/><rect x="51.60" y="62.80" width="1.6" height="1.8" fill="#d4553a"/><rect x="60.20" y="62.80" width="1.6" height="1.8" fill="#d4553a"/></g><rect x="0" y="0" width="65.5" height="75" fill="none" stroke="#bdb286" stroke-width="0.6"/></g>
<defs><mask id="m2" maskUnits="userSpaceOnUse" x="-10" y="-10" width="100" height="100"><rect x="-5" y="-5" width="80" height="90" fill="#fff"/><rect x="6.0" y="6.5" width="6.6" height="7.6" fill="#000"/><rect x="15.6" y="6.5" width="6.6" height="7.6" fill="#000"/><rect x="25.2" y="6.5" width="6.6" height="7.6" fill="#000"/><rect x="34.8" y="6.5" width="6.6" height="7.6" fill="#000"/><rect x="44.4" y="6.5" width="6.6" height="7.6" fill="#000"/><rect x="54.0" y="6.5" width="6.6" height="7.6" fill="#000"/><rect x="6.0" y="17.9" width="6.6" height="7.6" fill="#000"/><rect x="15.6" y="17.9" width="6.6" height="7.6" fill="#000"/><rect x="25.2" y="17.9" width="6.6" height="7.6" fill="#000"/><rect x="34.8" y="17.9" width="6.6" height="7.6" fill="#000"/><rect x="44.4" y="17.9" width="6.6" height="7.6" fill="#000"/><rect x="54.0" y="17.9" width="6.6" height="7.6" fill="#000"/><rect x="6.0" y="29.3" width="6.6" height="7.6" fill="#000"/><rect x="15.6" y="29.3" width="6.6" height="7.6" fill="#000"/><rect x="25.2" y="29.3" width="6.6" height="7.6" fill="#000"/><rect x="34.8" y="29.3" width="6.6" height="7.6" fill="#000"/><rect x="44.4" y="29.3" width="6.6" height="7.6" fill="#000"/><rect x="54.0" y="29.3" width="6.6" height="7.6" fill="#000"/><rect x="6.0" y="40.7" width="6.6" height="7.6" fill="#000"/><rect x="15.6" y="40.7" width="6.6" height="7.6" fill="#000"/><rect x="25.2" y="40.7" width="6.6" height="7.6" fill="#000"/><rect x="34.8" y="40.7" width="6.6" height="7.6" fill="#000"/><rect x="44.4" y="40.7" width="6.6" height="7.6" fill="#000"/><rect x="54.0" y="40.7" width="6.6" height="7.6" fill="#000"/><rect x="6.0" y="52.1" width="6.6" height="7.6" fill="#000"/><rect x="15.6" y="52.1" width="6.6" height="7.6" fill="#000"/><rect x="25.2" y="52.1" width="6.6" height="7.6" fill="#000"/><rect x="34.8" y="52.1" width="6.6" height="7.6" fill="#000"/><rect x="44.4" y="52.1" width="6.6" height="7.6" fill="#000"/><rect x="54.0" y="52.1" width="6.6" height="7.6" fill="#000"/><rect x="6.0" y="63.5" width="6.6" height="7.6" fill="#000"/><rect x="15.6" y="63.5" width="6.6" height="7.6" fill="#000"/><rect x="25.2" y="63.5" width="6.6" height="7.6" fill="#000"/><rect x="34.8" y="63.5" width="6.6" height="7.6" fill="#000"/><rect x="44.4" y="63.5" width="6.6" height="7.6" fill="#000"/><rect x="54.0" y="63.5" width="6.6" height="7.6" fill="#000"/></mask></defs>
<g transform="matrix(1,-0.54,0,1,45,84)"><rect x="0" y="0" width="4.5" height="77" fill="#8c8c8c"/><rect x="0" y="0" width="65.5" height="77" fill="#b9b9b9" mask="url(#m2)"/><rect x="4.5" y="1.2" width="60.0" height="74.6" fill="none" stroke="#cfcfcf" stroke-width="1.4"/><rect x="0" y="0" width="65.5" height="77" fill="none" stroke="#7d7d7d" stroke-width="0.7"/><path d="M7.2,6.5V13.7H12.2V8.5" fill="none" stroke="#0a0a0a" stroke-width="2.5"/><path d="M16.8,6.5V13.7H21.8V8.5" fill="none" stroke="#0a0a0a" stroke-width="2.5"/><path d="M26.4,6.5V13.7H31.4V8.5" fill="none" stroke="#0a0a0a" stroke-width="2.5"/><path d="M36.0,6.5V13.7H41.0V8.5" fill="none" stroke="#0a0a0a" stroke-width="2.5"/><path d="M45.6,6.5V13.7H50.6V8.5" fill="none" stroke="#0a0a0a" stroke-width="2.5"/><path d="M55.2,6.5V13.7H60.2V8.5" fill="none" stroke="#0a0a0a" stroke-width="2.5"/><path d="M7.2,17.9V25.1H12.2V19.9" fill="none" stroke="#0a0a0a" stroke-width="2.5"/><path d="M16.8,17.9V25.1H21.8V19.9" fill="none" stroke="#0a0a0a" stroke-width="2.5"/><path d="M26.4,17.9V25.1H31.4V19.9" fill="none" stroke="#0a0a0a" stroke-width="2.5"/><path d="M36.0,17.9V25.1H41.0V19.9" fill="none" stroke="#0a0a0a" stroke-width="2.5"/><path d="M45.6,17.9V25.1H50.6V19.9" fill="none" stroke="#0a0a0a" stroke-width="2.5"/><path d="M55.2,17.9V25.1H60.2V19.9" fill="none" stroke="#0a0a0a" stroke-width="2.5"/><path d="M7.2,29.3V36.5H12.2V31.3" fill="none" stroke="#0a0a0a" stroke-width="2.5"/><path d="M16.8,29.3V36.5H21.8V31.3" fill="none" stroke="#0a0a0a" stroke-width="2.5"/><path d="M26.4,29.3V36.5H31.4V31.3" fill="none" stroke="#0a0a0a" stroke-width="2.5"/><path d="M36.0,29.3V36.5H41.0V31.3" fill="none" stroke="#0a0a0a" stroke-width="2.5"/><path d="M45.6,29.3V36.5H50.6V31.3" fill="none" stroke="#0a0a0a" stroke-width="2.5"/><path d="M55.2,29.3V36.5H60.2V31.3" fill="none" stroke="#0a0a0a" stroke-width="2.5"/><path d="M7.2,40.7V47.9H12.2V42.7" fill="none" stroke="#0a0a0a" stroke-width="2.5"/><path d="M16.8,40.7V47.9H21.8V42.7" fill="none" stroke="#0a0a0a" stroke-width="2.5"/><path d="M26.4,40.7V47.9H31.4V42.7" fill="none" stroke="#0a0a0a" stroke-width="2.5"/><path d="M36.0,40.7V47.9H41.0V42.7" fill="none" stroke="#0a0a0a" stroke-width="2.5"/><path d="M45.6,40.7V47.9H50.6V42.7" fill="none" stroke="#0a0a0a" stroke-width="2.5"/><path d="M55.2,40.7V47.9H60.2V42.7" fill="none" stroke="#0a0a0a" stroke-width="2.5"/><path d="M7.2,52.1V59.3H12.2V54.1" fill="none" stroke="#0a0a0a" stroke-width="2.5"/><path d="M16.8,52.1V59.3H21.8V54.1" fill="none" stroke="#0a0a0a" stroke-width="2.5"/><path d="M26.4,52.1V59.3H31.4V54.1" fill="none" stroke="#0a0a0a" stroke-width="2.5"/><path d="M36.0,52.1V59.3H41.0V54.1" fill="none" stroke="#0a0a0a" stroke-width="2.5"/><path d="M45.6,52.1V59.3H50.6V54.1" fill="none" stroke="#0a0a0a" stroke-width="2.5"/><path d="M55.2,52.1V59.3H60.2V54.1" fill="none" stroke="#0a0a0a" stroke-width="2.5"/><path d="M7.2,63.5V70.7H12.2V65.5" fill="none" stroke="#0a0a0a" stroke-width="2.5"/><path d="M16.8,63.5V70.7H21.8V65.5" fill="none" stroke="#0a0a0a" stroke-width="2.5"/><path d="M26.4,63.5V70.7H31.4V65.5" fill="none" stroke="#0a0a0a" stroke-width="2.5"/><path d="M36.0,63.5V70.7H41.0V65.5" fill="none" stroke="#0a0a0a" stroke-width="2.5"/><path d="M45.6,63.5V70.7H50.6V65.5" fill="none" stroke="#0a0a0a" stroke-width="2.5"/><path d="M55.2,63.5V70.7H60.2V65.5" fill="none" stroke="#0a0a0a" stroke-width="2.5"/></g>
<g transform="matrix(1,-0.54,0,1,59.5,92.5)"><rect x="-1.8" y="0" width="1.8" height="76.5" fill="#c2b78e"/><path d="M0,0H66.5V76.5H0Z M4.2,3.2V71.5H63.3V3.2Z" fill="#e9e1bc" fill-rule="evenodd"/><clipPath id="c3"><rect x="4.2" y="3.2" width="59.099999999999994" height="68.3"/></clipPath><g clip-path="url(#c3)" fill="none" stroke="#e4dbb2" stroke-width="1.5"><polygon points="1.10,-7.30 5.20,-5.00 5.20,-0.40 1.10,1.90 -3.00,-0.40 -3.00,-5.00"/><polygon points="9.30,-7.30 13.40,-5.00 13.40,-0.40 9.30,1.90 5.20,-0.40 5.20,-5.00"/><polygon points="17.50,-7.30 21.60,-5.00 21.60,-0.40 17.50,1.90 13.40,-0.40 13.40,-5.00"/><polygon points="25.70,-7.30 29.80,-5.00 29.80,-0.40 25.70,1.90 21.60,-0.40 21.60,-5.00"/><polygon points="33.90,-7.30 38.00,-5.00 38.00,-0.40 33.90,1.90 29.80,-0.40 29.80,-5.00"/><polygon points="42.10,-7.30 46.20,-5.00 46.20,-0.40 42.10,1.90 38.00,-0.40 38.00,-5.00"/><polygon points="50.30,-7.30 54.40,-5.00 54.40,-0.40 50.30,1.90 46.20,-0.40 46.20,-5.00"/><polygon points="58.50,-7.30 62.60,-5.00 62.60,-0.40 58.50,1.90 54.40,-0.40 54.40,-5.00"/><polygon points="66.70,-7.30 70.80,-5.00 70.80,-0.40 66.70,1.90 62.60,-0.40 62.60,-5.00"/><polygon points="74.90,-7.30 79.00,-5.00 79.00,-0.40 74.90,1.90 70.80,-0.40 70.80,-5.00"/><polygon points="83.10,-7.30 87.20,-5.00 87.20,-0.40 83.10,1.90 79.00,-0.40 79.00,-5.00"/><polygon points="-3.00,-0.40 1.10,1.90 1.10,6.50 -3.00,8.80 -7.10,6.50 -7.10,1.90"/><polygon points="5.20,-0.40 9.30,1.90 9.30,6.50 5.20,8.80 1.10,6.50 1.10,1.90"/><polygon points="13.40,-0.40 17.50,1.90 17.50,6.50 13.40,8.80 9.30,6.50 9.30,1.90"/><polygon points="21.60,-0.40 25.70,1.90 25.70,6.50 21.60,8.80 17.50,6.50 17.50,1.90"/><polygon points="29.80,-0.40 33.90,1.90 33.90,6.50 29.80,8.80 25.70,6.50 25.70,1.90"/><polygon points="38.00,-0.40 42.10,1.90 42.10,6.50 38.00,8.80 33.90,6.50 33.90,1.90"/><polygon points="46.20,-0.40 50.30,1.90 50.30,6.50 46.20,8.80 42.10,6.50 42.10,1.90"/><polygon points="54.40,-0.40 58.50,1.90 58.50,6.50 54.40,8.80 50.30,6.50 50.30,1.90"/><polygon points="62.60,-0.40 66.70,1.90 66.70,6.50 62.60,8.80 58.50,6.50 58.50,1.90"/><polygon points="70.80,-0.40 74.90,1.90 74.90,6.50 70.80,8.80 66.70,6.50 66.70,1.90"/><polygon points="79.00,-0.40 83.10,1.90 83.10,6.50 79.00,8.80 74.90,6.50 74.90,1.90"/><polygon points="1.10,6.50 5.20,8.80 5.20,13.40 1.10,15.70 -3.00,13.40 -3.00,8.80"/><polygon points="9.30,6.50 13.40,8.80 13.40,13.40 9.30,15.70 5.20,13.40 5.20,8.80"/><polygon points="17.50,6.50 21.60,8.80 21.60,13.40 17.50,15.70 13.40,13.40 13.40,8.80"/><polygon points="25.70,6.50 29.80,8.80 29.80,13.40 25.70,15.70 21.60,13.40 21.60,8.80"/><polygon points="33.90,6.50 38.00,8.80 38.00,13.40 33.90,15.70 29.80,13.40 29.80,8.80"/><polygon points="42.10,6.50 46.20,8.80 46.20,13.40 42.10,15.70 38.00,13.40 38.00,8.80"/><polygon points="50.30,6.50 54.40,8.80 54.40,13.40 50.30,15.70 46.20,13.40 46.20,8.80"/><polygon points="58.50,6.50 62.60,8.80 62.60,13.40 58.50,15.70 54.40,13.40 54.40,8.80"/><polygon points="66.70,6.50 70.80,8.80 70.80,13.40 66.70,15.70 62.60,13.40 62.60,8.80"/><polygon points="74.90,6.50 79.00,8.80 79.00,13.40 74.90,15.70 70.80,13.40 70.80,8.80"/><polygon points="83.10,6.50 87.20,8.80 87.20,13.40 83.10,15.70 79.00,13.40 79.00,8.80"/><polygon points="-3.00,13.40 1.10,15.70 1.10,20.30 -3.00,22.60 -7.10,20.30 -7.10,15.70"/><polygon points="5.20,13.40 9.30,15.70 9.30,20.30 5.20,22.60 1.10,20.30 1.10,15.70"/><polygon points="13.40,13.40 17.50,15.70 17.50,20.30 13.40,22.60 9.30,20.30 9.30,15.70"/><polygon points="21.60,13.40 25.70,15.70 25.70,20.30 21.60,22.60 17.50,20.30 17.50,15.70"/><polygon points="29.80,13.40 33.90,15.70 33.90,20.30 29.80,22.60 25.70,20.30 25.70,15.70"/><polygon points="38.00,13.40 42.10,15.70 42.10,20.30 38.00,22.60 33.90,20.30 33.90,15.70"/><polygon points="46.20,13.40 50.30,15.70 50.30,20.30 46.20,22.60 42.10,20.30 42.10,15.70"/><polygon points="54.40,13.40 58.50,15.70 58.50,20.30 54.40,22.60 50.30,20.30 50.30,15.70"/><polygon points="62.60,13.40 66.70,15.70 66.70,20.30 62.60,22.60 58.50,20.30 58.50,15.70"/><polygon points="70.80,13.40 74.90,15.70 74.90,20.30 70.80,22.60 66.70,20.30 66.70,15.70"/><polygon points="79.00,13.40 83.10,15.70 83.10,20.30 79.00,22.60 74.90,20.30 74.90,15.70"/><polygon points="1.10,20.30 5.20,22.60 5.20,27.20 1.10,29.50 -3.00,27.20 -3.00,22.60"/><polygon points="9.30,20.30 13.40,22.60 13.40,27.20 9.30,29.50 5.20,27.20 5.20,22.60"/><polygon points="17.50,20.30 21.60,22.60 21.60,27.20 17.50,29.50 13.40,27.20 13.40,22.60"/><polygon points="25.70,20.30 29.80,22.60 29.80,27.20 25.70,29.50 21.60,27.20 21.60,22.60"/><polygon points="33.90,20.30 38.00,22.60 38.00,27.20 33.90,29.50 29.80,27.20 29.80,22.60"/><polygon points="42.10,20.30 46.20,22.60 46.20,27.20 42.10,29.50 38.00,27.20 38.00,22.60"/><polygon points="50.30,20.30 54.40,22.60 54.40,27.20 50.30,29.50 46.20,27.20 46.20,22.60"/><polygon points="58.50,20.30 62.60,22.60 62.60,27.20 58.50,29.50 54.40,27.20 54.40,22.60"/><polygon points="66.70,20.30 70.80,22.60 70.80,27.20 66.70,29.50 62.60,27.20 62.60,22.60"/><polygon points="74.90,20.30 79.00,22.60 79.00,27.20 74.90,29.50 70.80,27.20 70.80,22.60"/><polygon points="83.10,20.30 87.20,22.60 87.20,27.20 83.10,29.50 79.00,27.20 79.00,22.60"/><polygon points="-3.00,27.20 1.10,29.50 1.10,34.10 -3.00,36.40 -7.10,34.10 -7.10,29.50"/><polygon points="5.20,27.20 9.30,29.50 9.30,34.10 5.20,36.40 1.10,34.10 1.10,29.50"/><polygon points="13.40,27.20 17.50,29.50 17.50,34.10 13.40,36.40 9.30,34.10 9.30,29.50"/><polygon points="21.60,27.20 25.70,29.50 25.70,34.10 21.60,36.40 17.50,34.10 17.50,29.50"/><polygon points="29.80,27.20 33.90,29.50 33.90,34.10 29.80,36.40 25.70,34.10 25.70,29.50"/><polygon points="38.00,27.20 42.10,29.50 42.10,34.10 38.00,36.40 33.90,34.10 33.90,29.50"/><polygon points="46.20,27.20 50.30,29.50 50.30,34.10 46.20,36.40 42.10,34.10 42.10,29.50"/><polygon points="54.40,27.20 58.50,29.50 58.50,34.10 54.40,36.40 50.30,34.10 50.30,29.50"/><polygon points="62.60,27.20 66.70,29.50 66.70,34.10 62.60,36.40 58.50,34.10 58.50,29.50"/><polygon points="70.80,27.20 74.90,29.50 74.90,34.10 70.80,36.40 66.70,34.10 66.70,29.50"/><polygon points="79.00,27.20 83.10,29.50 83.10,34.10 79.00,36.40 74.90,34.10 74.90,29.50"/><polygon points="1.10,34.10 5.20,36.40 5.20,41.00 1.10,43.30 -3.00,41.00 -3.00,36.40"/><polygon points="9.30,34.10 13.40,36.40 13.40,41.00 9.30,43.30 5.20,41.00 5.20,36.40"/><polygon points="17.50,34.10 21.60,36.40 21.60,41.00 17.50,43.30 13.40,41.00 13.40,36.40"/><polygon points="25.70,34.10 29.80,36.40 29.80,41.00 25.70,43.30 21.60,41.00 21.60,36.40"/><polygon points="33.90,34.10 38.00,36.40 38.00,41.00 33.90,43.30 29.80,41.00 29.80,36.40"/><polygon points="42.10,34.10 46.20,36.40 46.20,41.00 42.10,43.30 38.00,41.00 38.00,36.40"/><polygon points="50.30,34.10 54.40,36.40 54.40,41.00 50.30,43.30 46.20,41.00 46.20,36.40"/><polygon points="58.50,34.10 62.60,36.40 62.60,41.00 58.50,43.30 54.40,41.00 54.40,36.40"/><polygon points="66.70,34.10 70.80,36.40 70.80,41.00 66.70,43.30 62.60,41.00 62.60,36.40"/><polygon points="74.90,34.10 79.00,36.40 79.00,41.00 74.90,43.30 70.80,41.00 70.80,36.40"/><polygon points="83.10,34.10 87.20,36.40 87.20,41.00 83.10,43.30 79.00,41.00 79.00,36.40"/><polygon points="-3.00,41.00 1.10,43.30 1.10,47.90 -3.00,50.20 -7.10,47.90 -7.10,43.30"/><polygon points="5.20,41.00 9.30,43.30 9.30,47.90 5.20,50.20 1.10,47.90 1.10,43.30"/><polygon points="13.40,41.00 17.50,43.30 17.50,47.90 13.40,50.20 9.30,47.90 9.30,43.30"/><polygon points="21.60,41.00 25.70,43.30 25.70,47.90 21.60,50.20 17.50,47.90 17.50,43.30"/><polygon points="29.80,41.00 33.90,43.30 33.90,47.90 29.80,50.20 25.70,47.90 25.70,43.30"/><polygon points="38.00,41.00 42.10,43.30 42.10,47.90 38.00,50.20 33.90,47.90 33.90,43.30"/><polygon points="46.20,41.00 50.30,43.30 50.30,47.90 46.20,50.20 42.10,47.90 42.10,43.30"/><polygon points="54.40,41.00 58.50,43.30 58.50,47.90 54.40,50.20 50.30,47.90 50.30,43.30"/><polygon points="62.60,41.00 66.70,43.30 66.70,47.90 62.60,50.20 58.50,47.90 58.50,43.30"/><polygon points="70.80,41.00 74.90,43.30 74.90,47.90 70.80,50.20 66.70,47.90 66.70,43.30"/><polygon points="79.00,41.00 83.10,43.30 83.10,47.90 79.00,50.20 74.90,47.90 74.90,43.30"/><polygon points="1.10,47.90 5.20,50.20 5.20,54.80 1.10,57.10 -3.00,54.80 -3.00,50.20"/><polygon points="9.30,47.90 13.40,50.20 13.40,54.80 9.30,57.10 5.20,54.80 5.20,50.20"/><polygon points="17.50,47.90 21.60,50.20 21.60,54.80 17.50,57.10 13.40,54.80 13.40,50.20"/><polygon points="25.70,47.90 29.80,50.20 29.80,54.80 25.70,57.10 21.60,54.80 21.60,50.20"/><polygon points="33.90,47.90 38.00,50.20 38.00,54.80 33.90,57.10 29.80,54.80 29.80,50.20"/><polygon points="42.10,47.90 46.20,50.20 46.20,54.80 42.10,57.10 38.00,54.80 38.00,50.20"/><polygon points="50.30,47.90 54.40,50.20 54.40,54.80 50.30,57.10 46.20,54.80 46.20,50.20"/><polygon points="58.50,47.90 62.60,50.20 62.60,54.80 58.50,57.10 54.40,54.80 54.40,50.20"/><polygon points="66.70,47.90 70.80,50.20 70.80,54.80 66.70,57.10 62.60,54.80 62.60,50.20"/><polygon points="74.90,47.90 79.00,50.20 79.00,54.80 74.90,57.10 70.80,54.80 70.80,50.20"/><polygon points="83.10,47.90 87.20,50.20 87.20,54.80 83.10,57.10 79.00,54.80 79.00,50.20"/><polygon points="-3.00,54.80 1.10,57.10 1.10,61.70 -3.00,64.00 -7.10,61.70 -7.10,57.10"/><polygon points="5.20,54.80 9.30,57.10 9.30,61.70 5.20,64.00 1.10,61.70 1.10,57.10"/><polygon points="13.40,54.80 17.50,57.10 17.50,61.70 13.40,64.00 9.30,61.70 9.30,57.10"/><polygon points="21.60,54.80 25.70,57.10 25.70,61.70 21.60,64.00 17.50,61.70 17.50,57.10"/><polygon points="29.80,54.80 33.90,57.10 33.90,61.70 29.80,64.00 25.70,61.70 25.70,57.10"/><polygon points="38.00,54.80 42.10,57.10 42.10,61.70 38.00,64.00 33.90,61.70 33.90,57.10"/><polygon points="46.20,54.80 50.30,57.10 50.30,61.70 46.20,64.00 42.10,61.70 42.10,57.10"/><polygon points="54.40,54.80 58.50,57.10 58.50,61.70 54.40,64.00 50.30,61.70 50.30,57.10"/><polygon points="62.60,54.80 66.70,57.10 66.70,61.70 62.60,64.00 58.50,61.70 58.50,57.10"/><polygon points="70.80,54.80 74.90,57.10 74.90,61.70 70.80,64.00 66.70,61.70 66.70,57.10"/><polygon points="79.00,54.80 83.10,57.10 83.10,61.70 79.00,64.00 74.90,61.70 74.90,57.10"/><polygon points="1.10,61.70 5.20,64.00 5.20,68.60 1.10,70.90 -3.00,68.60 -3.00,64.00"/><polygon points="9.30,61.70 13.40,64.00 13.40,68.60 9.30,70.90 5.20,68.60 5.20,64.00"/><polygon points="17.50,61.70 21.60,64.00 21.60,68.60 17.50,70.90 13.40,68.60 13.40,64.00"/><polygon points="25.70,61.70 29.80,64.00 29.80,68.60 25.70,70.90 21.60,68.60 21.60,64.00"/><polygon points="33.90,61.70 38.00,64.00 38.00,68.60 33.90,70.90 29.80,68.60 29.80,64.00"/><polygon points="42.10,61.70 46.20,64.00 46.20,68.60 42.10,70.90 38.00,68.60 38.00,64.00"/><polygon points="50.30,61.70 54.40,64.00 54.40,68.60 50.30,70.90 46.20,68.60 46.20,64.00"/><polygon points="58.50,61.70 62.60,64.00 62.60,68.60 58.50,70.90 54.40,68.60 54.40,64.00"/><polygon points="66.70,61.70 70.80,64.00 70.80,68.60 66.70,70.90 62.60,68.60 62.60,64.00"/><polygon points="74.90,61.70 79.00,64.00 79.00,68.60 74.90,70.90 70.80,68.60 70.80,64.00"/><polygon points="83.10,61.70 87.20,64.00 87.20,68.60 83.10,70.90 79.00,68.60 79.00,64.00"/><polygon points="-3.00,68.60 1.10,70.90 1.10,75.50 -3.00,77.80 -7.10,75.50 -7.10,70.90"/><polygon points="5.20,68.60 9.30,70.90 9.30,75.50 5.20,77.80 1.10,75.50 1.10,70.90"/><polygon points="13.40,68.60 17.50,70.90 17.50,75.50 13.40,77.80 9.30,75.50 9.30,70.90"/><polygon points="21.60,68.60 25.70,70.90 25.70,75.50 21.60,77.80 17.50,75.50 17.50,70.90"/><polygon points="29.80,68.60 33.90,70.90 33.90,75.50 29.80,77.80 25.70,75.50 25.70,70.90"/><polygon points="38.00,68.60 42.10,70.90 42.10,75.50 38.00,77.80 33.90,75.50 33.90,70.90"/><polygon points="46.20,68.60 50.30,70.90 50.30,75.50 46.20,77.80 42.10,75.50 42.10,70.90"/><polygon points="54.40,68.60 58.50,70.90 58.50,75.50 54.40,77.80 50.30,75.50 50.30,70.90"/><polygon points="62.60,68.60 66.70,70.90 66.70,75.50 62.60,77.80 58.50,75.50 58.50,70.90"/><polygon points="70.80,68.60 74.90,70.90 74.90,75.50 70.80,77.80 66.70,75.50 66.70,70.90"/><polygon points="79.00,68.60 83.10,70.90 83.10,75.50 79.00,77.80 74.90,75.50 74.90,70.90"/><polygon points="1.10,75.50 5.20,77.80 5.20,82.40 1.10,84.70 -3.00,82.40 -3.00,77.80"/><polygon points="9.30,75.50 13.40,77.80 13.40,82.40 9.30,84.70 5.20,82.40 5.20,77.80"/><polygon points="17.50,75.50 21.60,77.80 21.60,82.40 17.50,84.70 13.40,82.40 13.40,77.80"/><polygon points="25.70,75.50 29.80,77.80 29.80,82.40 25.70,84.70 21.60,82.40 21.60,77.80"/><polygon points="33.90,75.50 38.00,77.80 38.00,82.40 33.90,84.70 29.80,82.40 29.80,77.80"/><polygon points="42.10,75.50 46.20,77.80 46.20,82.40 42.10,84.70 38.00,82.40 38.00,77.80"/><polygon points="50.30,75.50 54.40,77.80 54.40,82.40 50.30,84.70 46.20,82.40 46.20,77.80"/><polygon points="58.50,75.50 62.60,77.80 62.60,82.40 58.50,84.70 54.40,82.40 54.40,77.80"/><polygon points="66.70,75.50 70.80,77.80 70.80,82.40 66.70,84.70 62.60,82.40 62.60,77.80"/><polygon points="74.90,75.50 79.00,77.80 79.00,82.40 74.90,84.70 70.80,82.40 70.80,77.80"/><polygon points="83.10,75.50 87.20,77.80 87.20,82.40 83.10,84.70 79.00,82.40 79.00,77.80"/><polygon points="-3.00,82.40 1.10,84.70 1.10,89.30 -3.00,91.60 -7.10,89.30 -7.10,84.70"/><polygon points="5.20,82.40 9.30,84.70 9.30,89.30 5.20,91.60 1.10,89.30 1.10,84.70"/><polygon points="13.40,82.40 17.50,84.70 17.50,89.30 13.40,91.60 9.30,89.30 9.30,84.70"/><polygon points="21.60,82.40 25.70,84.70 25.70,89.30 21.60,91.60 17.50,89.30 17.50,84.70"/><polygon points="29.80,82.40 33.90,84.70 33.90,89.30 29.80,91.60 25.70,89.30 25.70,84.70"/><polygon points="38.00,82.40 42.10,84.70 42.10,89.30 38.00,91.60 33.90,89.30 33.90,84.70"/><polygon points="46.20,82.40 50.30,84.70 50.30,89.30 46.20,91.60 42.10,89.30 42.10,84.70"/><polygon points="54.40,82.40 58.50,84.70 58.50,89.30 54.40,91.60 50.30,89.30 50.30,84.70"/><polygon points="62.60,82.40 66.70,84.70 66.70,89.30 62.60,91.60 58.50,89.30 58.50,84.70"/><polygon points="70.80,82.40 74.90,84.70 74.90,89.30 70.80,91.60 66.70,89.30 66.70,84.70"/><polygon points="79.00,82.40 83.10,84.70 83.10,89.30 79.00,91.60 74.90,89.30 74.90,84.70"/><polygon points="1.10,89.30 5.20,91.60 5.20,96.20 1.10,98.50 -3.00,96.20 -3.00,91.60"/><polygon points="9.30,89.30 13.40,91.60 13.40,96.20 9.30,98.50 5.20,96.20 5.20,91.60"/><polygon points="17.50,89.30 21.60,91.60 21.60,96.20 17.50,98.50 13.40,96.20 13.40,91.60"/><polygon points="25.70,89.30 29.80,91.60 29.80,96.20 25.70,98.50 21.60,96.20 21.60,91.60"/><polygon points="33.90,89.30 38.00,91.60 38.00,96.20 33.90,98.50 29.80,96.20 29.80,91.60"/><polygon points="42.10,89.30 46.20,91.60 46.20,96.20 42.10,98.50 38.00,96.20 38.00,91.60"/><polygon points="50.30,89.30 54.40,91.60 54.40,96.20 50.30,98.50 46.20,96.20 46.20,91.60"/><polygon points="58.50,89.30 62.60,91.60 62.60,96.20 58.50,98.50 54.40,96.20 54.40,91.60"/><polygon points="66.70,89.30 70.80,91.60 70.80,96.20 66.70,98.50 62.60,96.20 62.60,91.60"/><polygon points="74.90,89.30 79.00,91.60 79.00,96.20 74.90,98.50 70.80,96.20 70.80,91.60"/><polygon points="83.10,89.30 87.20,91.60 87.20,96.20 83.10,98.50 79.00,96.20 79.00,91.60"/><polygon points="-3.00,96.20 1.10,98.50 1.10,103.10 -3.00,105.40 -7.10,103.10 -7.10,98.50"/><polygon points="5.20,96.20 9.30,98.50 9.30,103.10 5.20,105.40 1.10,103.10 1.10,98.50"/><polygon points="13.40,96.20 17.50,98.50 17.50,103.10 13.40,105.40 9.30,103.10 9.30,98.50"/><polygon points="21.60,96.20 25.70,98.50 25.70,103.10 21.60,105.40 17.50,103.10 17.50,98.50"/><polygon points="29.80,96.20 33.90,98.50 33.90,103.10 29.80,105.40 25.70,103.10 25.70,98.50"/><polygon points="38.00,96.20 42.10,98.50 42.10,103.10 38.00,105.40 33.90,103.10 33.90,98.50"/><polygon points="46.20,96.20 50.30,98.50 50.30,103.10 46.20,105.40 42.10,103.10 42.10,98.50"/><polygon points="54.40,96.20 58.50,98.50 58.50,103.10 54.40,105.40 50.30,103.10 50.30,98.50"/><polygon points="62.60,96.20 66.70,98.50 66.70,103.10 62.60,105.40 58.50,103.10 58.50,98.50"/><polygon points="70.80,96.20 74.90,98.50 74.90,103.10 70.80,105.40 66.70,103.10 66.70,98.50"/><polygon points="79.00,96.20 83.10,98.50 83.10,103.10 79.00,105.40 74.90,103.10 74.90,98.50"/><polygon points="1.10,103.10 5.20,105.40 5.20,110.00 1.10,112.30 -3.00,110.00 -3.00,105.40"/><polygon points="9.30,103.10 13.40,105.40 13.40,110.00 9.30,112.30 5.20,110.00 5.20,105.40"/><polygon points="17.50,103.10 21.60,105.40 21.60,110.00 17.50,112.30 13.40,110.00 13.40,105.40"/><polygon points="25.70,103.10 29.80,105.40 29.80,110.00 25.70,112.30 21.60,110.00 21.60,105.40"/><polygon points="33.90,103.10 38.00,105.40 38.00,110.00 33.90,112.30 29.80,110.00 29.80,105.40"/><polygon points="42.10,103.10 46.20,105.40 46.20,110.00 42.10,112.30 38.00,110.00 38.00,105.40"/><polygon points="50.30,103.10 54.40,105.40 54.40,110.00 50.30,112.30 46.20,110.00 46.20,105.40"/><polygon points="58.50,103.10 62.60,105.40 62.60,110.00 58.50,112.30 54.40,110.00 54.40,105.40"/><polygon points="66.70,103.10 70.80,105.40 70.80,110.00 66.70,112.30 62.60,110.00 62.60,105.40"/><polygon points="74.90,103.10 79.00,105.40 79.00,110.00 74.90,112.30 70.80,110.00 70.80,105.40"/><polygon points="83.10,103.10 87.20,105.40 87.20,110.00 83.10,112.30 79.00,110.00 79.00,105.40"/></g><g clip-path="url(#c3)" fill="none" stroke="#da7a4c" stroke-width="0.8"><ellipse cx="1.10" cy="-2.70" rx="2.7" ry="3.2"/><ellipse cx="9.30" cy="-2.70" rx="2.7" ry="3.2"/><ellipse cx="17.50" cy="-2.70" rx="2.7" ry="3.2"/><ellipse cx="25.70" cy="-2.70" rx="2.7" ry="3.2"/><ellipse cx="33.90" cy="-2.70" rx="2.7" ry="3.2"/><ellipse cx="42.10" cy="-2.70" rx="2.7" ry="3.2"/><ellipse cx="50.30" cy="-2.70" rx="2.7" ry="3.2"/><ellipse cx="58.50" cy="-2.70" rx="2.7" ry="3.2"/><ellipse cx="66.70" cy="-2.70" rx="2.7" ry="3.2"/><ellipse cx="74.90" cy="-2.70" rx="2.7" ry="3.2"/><ellipse cx="83.10" cy="-2.70" rx="2.7" ry="3.2"/><ellipse cx="-3.00" cy="4.20" rx="2.7" ry="3.2"/><ellipse cx="5.20" cy="4.20" rx="2.7" ry="3.2"/><ellipse cx="13.40" cy="4.20" rx="2.7" ry="3.2"/><ellipse cx="21.60" cy="4.20" rx="2.7" ry="3.2"/><ellipse cx="29.80" cy="4.20" rx="2.7" ry="3.2"/><ellipse cx="38.00" cy="4.20" rx="2.7" ry="3.2"/><ellipse cx="46.20" cy="4.20" rx="2.7" ry="3.2"/><ellipse cx="54.40" cy="4.20" rx="2.7" ry="3.2"/><ellipse cx="62.60" cy="4.20" rx="2.7" ry="3.2"/><ellipse cx="70.80" cy="4.20" rx="2.7" ry="3.2"/><ellipse cx="79.00" cy="4.20" rx="2.7" ry="3.2"/><ellipse cx="1.10" cy="11.10" rx="2.7" ry="3.2"/><ellipse cx="9.30" cy="11.10" rx="2.7" ry="3.2"/><ellipse cx="17.50" cy="11.10" rx="2.7" ry="3.2"/><ellipse cx="25.70" cy="11.10" rx="2.7" ry="3.2"/><ellipse cx="33.90" cy="11.10" rx="2.7" ry="3.2"/><ellipse cx="42.10" cy="11.10" rx="2.7" ry="3.2"/><ellipse cx="50.30" cy="11.10" rx="2.7" ry="3.2"/><ellipse cx="58.50" cy="11.10" rx="2.7" ry="3.2"/><ellipse cx="66.70" cy="11.10" rx="2.7" ry="3.2"/><ellipse cx="74.90" cy="11.10" rx="2.7" ry="3.2"/><ellipse cx="83.10" cy="11.10" rx="2.7" ry="3.2"/><ellipse cx="-3.00" cy="18.00" rx="2.7" ry="3.2"/><ellipse cx="5.20" cy="18.00" rx="2.7" ry="3.2"/><ellipse cx="13.40" cy="18.00" rx="2.7" ry="3.2"/><ellipse cx="21.60" cy="18.00" rx="2.7" ry="3.2"/><ellipse cx="29.80" cy="18.00" rx="2.7" ry="3.2"/><ellipse cx="38.00" cy="18.00" rx="2.7" ry="3.2"/><ellipse cx="46.20" cy="18.00" rx="2.7" ry="3.2"/><ellipse cx="54.40" cy="18.00" rx="2.7" ry="3.2"/><ellipse cx="62.60" cy="18.00" rx="2.7" ry="3.2"/><ellipse cx="70.80" cy="18.00" rx="2.7" ry="3.2"/><ellipse cx="79.00" cy="18.00" rx="2.7" ry="3.2"/><ellipse cx="1.10" cy="24.90" rx="2.7" ry="3.2"/><ellipse cx="9.30" cy="24.90" rx="2.7" ry="3.2"/><ellipse cx="17.50" cy="24.90" rx="2.7" ry="3.2"/><ellipse cx="25.70" cy="24.90" rx="2.7" ry="3.2"/><ellipse cx="33.90" cy="24.90" rx="2.7" ry="3.2"/><ellipse cx="42.10" cy="24.90" rx="2.7" ry="3.2"/><ellipse cx="50.30" cy="24.90" rx="2.7" ry="3.2"/><ellipse cx="58.50" cy="24.90" rx="2.7" ry="3.2"/><ellipse cx="66.70" cy="24.90" rx="2.7" ry="3.2"/><ellipse cx="74.90" cy="24.90" rx="2.7" ry="3.2"/><ellipse cx="83.10" cy="24.90" rx="2.7" ry="3.2"/><ellipse cx="-3.00" cy="31.80" rx="2.7" ry="3.2"/><ellipse cx="5.20" cy="31.80" rx="2.7" ry="3.2"/><ellipse cx="13.40" cy="31.80" rx="2.7" ry="3.2"/><ellipse cx="21.60" cy="31.80" rx="2.7" ry="3.2"/><ellipse cx="29.80" cy="31.80" rx="2.7" ry="3.2"/><ellipse cx="38.00" cy="31.80" rx="2.7" ry="3.2"/><ellipse cx="46.20" cy="31.80" rx="2.7" ry="3.2"/><ellipse cx="54.40" cy="31.80" rx="2.7" ry="3.2"/><ellipse cx="62.60" cy="31.80" rx="2.7" ry="3.2"/><ellipse cx="70.80" cy="31.80" rx="2.7" ry="3.2"/><ellipse cx="79.00" cy="31.80" rx="2.7" ry="3.2"/><ellipse cx="1.10" cy="38.70" rx="2.7" ry="3.2"/><ellipse cx="9.30" cy="38.70" rx="2.7" ry="3.2"/><ellipse cx="17.50" cy="38.70" rx="2.7" ry="3.2"/><ellipse cx="25.70" cy="38.70" rx="2.7" ry="3.2"/><ellipse cx="33.90" cy="38.70" rx="2.7" ry="3.2"/><ellipse cx="42.10" cy="38.70" rx="2.7" ry="3.2"/><ellipse cx="50.30" cy="38.70" rx="2.7" ry="3.2"/><ellipse cx="58.50" cy="38.70" rx="2.7" ry="3.2"/><ellipse cx="66.70" cy="38.70" rx="2.7" ry="3.2"/><ellipse cx="74.90" cy="38.70" rx="2.7" ry="3.2"/><ellipse cx="83.10" cy="38.70" rx="2.7" ry="3.2"/><ellipse cx="-3.00" cy="45.60" rx="2.7" ry="3.2"/><ellipse cx="5.20" cy="45.60" rx="2.7" ry="3.2"/><ellipse cx="13.40" cy="45.60" rx="2.7" ry="3.2"/><ellipse cx="21.60" cy="45.60" rx="2.7" ry="3.2"/><ellipse cx="29.80" cy="45.60" rx="2.7" ry="3.2"/><ellipse cx="38.00" cy="45.60" rx="2.7" ry="3.2"/><ellipse cx="46.20" cy="45.60" rx="2.7" ry="3.2"/><ellipse cx="54.40" cy="45.60" rx="2.7" ry="3.2"/><ellipse cx="62.60" cy="45.60" rx="2.7" ry="3.2"/><ellipse cx="70.80" cy="45.60" rx="2.7" ry="3.2"/><ellipse cx="79.00" cy="45.60" rx="2.7" ry="3.2"/><ellipse cx="1.10" cy="52.50" rx="2.7" ry="3.2"/><ellipse cx="9.30" cy="52.50" rx="2.7" ry="3.2"/><ellipse cx="17.50" cy="52.50" rx="2.7" ry="3.2"/><ellipse cx="25.70" cy="52.50" rx="2.7" ry="3.2"/><ellipse cx="33.90" cy="52.50" rx="2.7" ry="3.2"/><ellipse cx="42.10" cy="52.50" rx="2.7" ry="3.2"/><ellipse cx="50.30" cy="52.50" rx="2.7" ry="3.2"/><ellipse cx="58.50" cy="52.50" rx="2.7" ry="3.2"/><ellipse cx="66.70" cy="52.50" rx="2.7" ry="3.2"/><ellipse cx="74.90" cy="52.50" rx="2.7" ry="3.2"/><ellipse cx="83.10" cy="52.50" rx="2.7" ry="3.2"/><ellipse cx="-3.00" cy="59.40" rx="2.7" ry="3.2"/><ellipse cx="5.20" cy="59.40" rx="2.7" ry="3.2"/><ellipse cx="13.40" cy="59.40" rx="2.7" ry="3.2"/><ellipse cx="21.60" cy="59.40" rx="2.7" ry="3.2"/><ellipse cx="29.80" cy="59.40" rx="2.7" ry="3.2"/><ellipse cx="38.00" cy="59.40" rx="2.7" ry="3.2"/><ellipse cx="46.20" cy="59.40" rx="2.7" ry="3.2"/><ellipse cx="54.40" cy="59.40" rx="2.7" ry="3.2"/><ellipse cx="62.60" cy="59.40" rx="2.7" ry="3.2"/><ellipse cx="70.80" cy="59.40" rx="2.7" ry="3.2"/><ellipse cx="79.00" cy="59.40" rx="2.7" ry="3.2"/><ellipse cx="1.10" cy="66.30" rx="2.7" ry="3.2"/><ellipse cx="9.30" cy="66.30" rx="2.7" ry="3.2"/><ellipse cx="17.50" cy="66.30" rx="2.7" ry="3.2"/><ellipse cx="25.70" cy="66.30" rx="2.7" ry="3.2"/><ellipse cx="33.90" cy="66.30" rx="2.7" ry="3.2"/><ellipse cx="42.10" cy="66.30" rx="2.7" ry="3.2"/><ellipse cx="50.30" cy="66.30" rx="2.7" ry="3.2"/><ellipse cx="58.50" cy="66.30" rx="2.7" ry="3.2"/><ellipse cx="66.70" cy="66.30" rx="2.7" ry="3.2"/><ellipse cx="74.90" cy="66.30" rx="2.7" ry="3.2"/><ellipse cx="83.10" cy="66.30" rx="2.7" ry="3.2"/><ellipse cx="-3.00" cy="73.20" rx="2.7" ry="3.2"/><ellipse cx="5.20" cy="73.20" rx="2.7" ry="3.2"/><ellipse cx="13.40" cy="73.20" rx="2.7" ry="3.2"/><ellipse cx="21.60" cy="73.20" rx="2.7" ry="3.2"/><ellipse cx="29.80" cy="73.20" rx="2.7" ry="3.2"/><ellipse cx="38.00" cy="73.20" rx="2.7" ry="3.2"/><ellipse cx="46.20" cy="73.20" rx="2.7" ry="3.2"/><ellipse cx="54.40" cy="73.20" rx="2.7" ry="3.2"/><ellipse cx="62.60" cy="73.20" rx="2.7" ry="3.2"/><ellipse cx="70.80" cy="73.20" rx="2.7" ry="3.2"/><ellipse cx="79.00" cy="73.20" rx="2.7" ry="3.2"/><ellipse cx="1.10" cy="80.10" rx="2.7" ry="3.2"/><ellipse cx="9.30" cy="80.10" rx="2.7" ry="3.2"/><ellipse cx="17.50" cy="80.10" rx="2.7" ry="3.2"/><ellipse cx="25.70" cy="80.10" rx="2.7" ry="3.2"/><ellipse cx="33.90" cy="80.10" rx="2.7" ry="3.2"/><ellipse cx="42.10" cy="80.10" rx="2.7" ry="3.2"/><ellipse cx="50.30" cy="80.10" rx="2.7" ry="3.2"/><ellipse cx="58.50" cy="80.10" rx="2.7" ry="3.2"/><ellipse cx="66.70" cy="80.10" rx="2.7" ry="3.2"/><ellipse cx="74.90" cy="80.10" rx="2.7" ry="3.2"/><ellipse cx="83.10" cy="80.10" rx="2.7" ry="3.2"/><ellipse cx="-3.00" cy="87.00" rx="2.7" ry="3.2"/><ellipse cx="5.20" cy="87.00" rx="2.7" ry="3.2"/><ellipse cx="13.40" cy="87.00" rx="2.7" ry="3.2"/><ellipse cx="21.60" cy="87.00" rx="2.7" ry="3.2"/><ellipse cx="29.80" cy="87.00" rx="2.7" ry="3.2"/><ellipse cx="38.00" cy="87.00" rx="2.7" ry="3.2"/><ellipse cx="46.20" cy="87.00" rx="2.7" ry="3.2"/><ellipse cx="54.40" cy="87.00" rx="2.7" ry="3.2"/><ellipse cx="62.60" cy="87.00" rx="2.7" ry="3.2"/><ellipse cx="70.80" cy="87.00" rx="2.7" ry="3.2"/><ellipse cx="79.00" cy="87.00" rx="2.7" ry="3.2"/><ellipse cx="1.10" cy="93.90" rx="2.7" ry="3.2"/><ellipse cx="9.30" cy="93.90" rx="2.7" ry="3.2"/><ellipse cx="17.50" cy="93.90" rx="2.7" ry="3.2"/><ellipse cx="25.70" cy="93.90" rx="2.7" ry="3.2"/><ellipse cx="33.90" cy="93.90" rx="2.7" ry="3.2"/><ellipse cx="42.10" cy="93.90" rx="2.7" ry="3.2"/><ellipse cx="50.30" cy="93.90" rx="2.7" ry="3.2"/><ellipse cx="58.50" cy="93.90" rx="2.7" ry="3.2"/><ellipse cx="66.70" cy="93.90" rx="2.7" ry="3.2"/><ellipse cx="74.90" cy="93.90" rx="2.7" ry="3.2"/><ellipse cx="83.10" cy="93.90" rx="2.7" ry="3.2"/><ellipse cx="-3.00" cy="100.80" rx="2.7" ry="3.2"/><ellipse cx="5.20" cy="100.80" rx="2.7" ry="3.2"/><ellipse cx="13.40" cy="100.80" rx="2.7" ry="3.2"/><ellipse cx="21.60" cy="100.80" rx="2.7" ry="3.2"/><ellipse cx="29.80" cy="100.80" rx="2.7" ry="3.2"/><ellipse cx="38.00" cy="100.80" rx="2.7" ry="3.2"/><ellipse cx="46.20" cy="100.80" rx="2.7" ry="3.2"/><ellipse cx="54.40" cy="100.80" rx="2.7" ry="3.2"/><ellipse cx="62.60" cy="100.80" rx="2.7" ry="3.2"/><ellipse cx="70.80" cy="100.80" rx="2.7" ry="3.2"/><ellipse cx="79.00" cy="100.80" rx="2.7" ry="3.2"/><ellipse cx="1.10" cy="107.70" rx="2.7" ry="3.2"/><ellipse cx="9.30" cy="107.70" rx="2.7" ry="3.2"/><ellipse cx="17.50" cy="107.70" rx="2.7" ry="3.2"/><ellipse cx="25.70" cy="107.70" rx="2.7" ry="3.2"/><ellipse cx="33.90" cy="107.70" rx="2.7" ry="3.2"/><ellipse cx="42.10" cy="107.70" rx="2.7" ry="3.2"/><ellipse cx="50.30" cy="107.70" rx="2.7" ry="3.2"/><ellipse cx="58.50" cy="107.70" rx="2.7" ry="3.2"/><ellipse cx="66.70" cy="107.70" rx="2.7" ry="3.2"/><ellipse cx="74.90" cy="107.70" rx="2.7" ry="3.2"/><ellipse cx="83.10" cy="107.70" rx="2.7" ry="3.2"/></g><rect x="0" y="0" width="66.5" height="76.5" fill="none" stroke="#b5aa7e" stroke-width="0.6"/><circle cx="2.2" cy="73.9" r="1.1" fill="#fff"/><circle cx="64.7" cy="2" r="1.1" fill="#fff"/></g>
<g><line x1="138.70" y1="73.41" x2="147.88" y2="77.12" stroke="#4e4e4e" stroke-width="3.9" stroke-linecap="round"/><line x1="138.37" y1="74.05" x2="147.54" y2="77.76" stroke="#7e7e7e" stroke-width="1" /><line x1="147.88" y1="77.12" x2="154.00" y2="79.60" stroke="#747474" stroke-width="7.6"/><line x1="148.44" y1="75.73" x2="154.56" y2="78.21" stroke="#909090" stroke-width="2.2"/><line x1="146.91" y1="79.54" x2="153.03" y2="82.01" stroke="#5c5c5c" stroke-width="2"/><ellipse cx="147.88" cy="77.12" rx="1.6" ry="3.8" transform="rotate(22.0 147.88 77.12)" fill="#747474"/><ellipse cx="154.00" cy="79.60" rx="1.8" ry="3.8" transform="rotate(22.0 154.00 79.60)" fill="#9e9e9e"/><ellipse cx="154.20" cy="79.60" rx="0.8" ry="1.6" transform="rotate(22.0 154.00 79.60)" fill="#444"/></g>
<g><line x1="81.70" y1="105.81" x2="90.88" y2="109.53" stroke="#4e4e4e" stroke-width="3.9" stroke-linecap="round"/><line x1="81.37" y1="106.45" x2="90.54" y2="110.16" stroke="#7e7e7e" stroke-width="1" /><line x1="90.88" y1="109.53" x2="97.00" y2="112.00" stroke="#747474" stroke-width="7.6"/><line x1="91.44" y1="108.13" x2="97.56" y2="110.61" stroke="#909090" stroke-width="2.2"/><line x1="89.91" y1="111.94" x2="96.03" y2="114.41" stroke="#5c5c5c" stroke-width="2"/><ellipse cx="90.88" cy="109.53" rx="1.6" ry="3.8" transform="rotate(22.0 90.88 109.53)" fill="#747474"/><ellipse cx="97.00" cy="112.00" rx="1.8" ry="3.8" transform="rotate(22.0 97.00 112.00)" fill="#9e9e9e"/><ellipse cx="97.20" cy="112.00" rx="0.8" ry="1.6" transform="rotate(22.0 97.00 112.00)" fill="#444"/></g>
<g><line x1="139.60" y1="142.01" x2="148.78" y2="145.72" stroke="#4e4e4e" stroke-width="3.9" stroke-linecap="round"/><line x1="139.27" y1="142.65" x2="148.44" y2="146.36" stroke="#7e7e7e" stroke-width="1" /><line x1="148.78" y1="145.72" x2="154.90" y2="148.20" stroke="#747474" stroke-width="7.6"/><line x1="149.34" y1="144.33" x2="155.46" y2="146.81" stroke="#909090" stroke-width="2.2"/><line x1="147.81" y1="148.14" x2="153.93" y2="150.61" stroke="#5c5c5c" stroke-width="2"/><ellipse cx="148.78" cy="145.72" rx="1.6" ry="3.8" transform="rotate(22.0 148.78 145.72)" fill="#747474"/><ellipse cx="154.90" cy="148.20" rx="1.8" ry="3.8" transform="rotate(22.0 154.90 148.20)" fill="#9e9e9e"/><ellipse cx="155.10" cy="148.20" rx="0.8" ry="1.6" transform="rotate(22.0 154.90 148.20)" fill="#444"/></g>
<g><line x1="83.70" y1="174.91" x2="92.88" y2="178.62" stroke="#4e4e4e" stroke-width="3.9" stroke-linecap="round"/><line x1="83.37" y1="175.55" x2="92.54" y2="179.26" stroke="#7e7e7e" stroke-width="1" /><line x1="92.88" y1="178.62" x2="99.00" y2="181.10" stroke="#747474" stroke-width="7.6"/><line x1="93.44" y1="177.23" x2="99.56" y2="179.71" stroke="#909090" stroke-width="2.2"/><line x1="91.91" y1="181.04" x2="98.03" y2="183.51" stroke="#5c5c5c" stroke-width="2"/><ellipse cx="92.88" cy="178.62" rx="1.6" ry="3.8" transform="rotate(22.0 92.88 178.62)" fill="#747474"/><ellipse cx="99.00" cy="181.10" rx="1.8" ry="3.8" transform="rotate(22.0 99.00 181.10)" fill="#9e9e9e"/><ellipse cx="99.20" cy="181.10" rx="0.8" ry="1.6" transform="rotate(22.0 99.00 181.10)" fill="#444"/></g>
<g class="serif" font-size="9.2" fill="#1a1a1a" stroke="#1a1a1a" stroke-width="0.25"><text x="18.8" y="31.7" textLength="24.3" lengthAdjust="spacingAndGlyphs">Corona</text><text x="14.1" y="41.3" textLength="33.7" lengthAdjust="spacingAndGlyphs">electrodes</text><text x="130.5" y="45" textLength="22.9" lengthAdjust="spacingAndGlyphs">Plate 2</text><text x="130" y="54.6" textLength="24" lengthAdjust="spacingAndGlyphs">(PCB )</text><text x="1.6" y="155.2" textLength="22.2" lengthAdjust="spacingAndGlyphs">Plate 1</text><text x="2" y="164" textLength="21.8" lengthAdjust="spacingAndGlyphs">(PCB)</text><text x="9.4" y="174.8" textLength="49.6" lengthAdjust="spacingAndGlyphs">Shielding layer</text><text x="18.6" y="183.6" textLength="30.2" lengthAdjust="spacingAndGlyphs">(PMMA)</text><text x="104.2" y="155" textLength="30.2" lengthAdjust="spacingAndGlyphs">Collector</text><text x="102.7" y="164.4" textLength="33.6" lengthAdjust="spacingAndGlyphs">electrodes</text></g>
<g stroke="#111" stroke-width="1.2" fill="none"><path d="M32.8,44V51.7H39"/><path d="M128,49.7H118.3V57"/><path d="M16.9,148V139.5H26"/><path d="M34.2,166V152.8H43"/><path d="M98.4,156.6H89.7V148"/></g><g fill="#111"><path d="M43,51.7l-4.5,-2.3v4.6z"/><path d="M118.3,61l-2.3,-4.5h4.6z"/><path d="M29.7,139.5l-4.5,-2.3v4.6z"/><path d="M46.9,152.8l-4.5,-2.3v4.6z"/><path d="M89.7,144.4l-2.3,4.5h4.6z"/></g>
</g>
<g id="photo">
<defs><linearGradient id="bg" x1="0" y1="0" x2="1" y2="1"><stop offset="0" stop-color="#e8edf7"/><stop offset="0.5" stop-color="#e9ebf5"/><stop offset="1" stop-color="#e3e1f3"/></linearGradient><clipPath id="pc"><rect x="169" y="23" width="191" height="170"/></clipPath></defs>
<rect x="169" y="23" width="191" height="170" fill="url(#bg)"/>
<g clip-path="url(#pc)">
<rect x="256" y="27.6" width="92.2" height="89.6" fill="#f2e99c"/><rect x="257" y="28.6" width="90.2" height="87.6" fill="none" stroke="#f0e27a" stroke-width="2"/>
<rect x="261.0" y="41.3" width="6.0" height="10.6" fill="#f0f0f0"/>
<rect x="261.0" y="54.5" width="6.0" height="10.6" fill="#f0f0f0"/>
<rect x="261.0" y="67.7" width="6.0" height="10.6" fill="#f0f0f0"/>
<rect x="261.0" y="80.9" width="6.0" height="10.6" fill="#f0f0f0"/>
<rect x="261.0" y="94.1" width="6.0" height="10.6" fill="#f0f0f0"/>
<rect x="261.0" y="107.3" width="6.0" height="5.8" fill="#f0f0f0"/>
<rect x="269.6" y="33.0" width="10.6" height="5.6" fill="#f0f0f0"/>
<rect x="269.6" y="41.3" width="10.6" height="10.6" fill="#f0f0f0"/>
<rect x="269.6" y="54.5" width="10.6" height="10.6" fill="#f0f0f0"/>
<rect x="269.6" y="67.7" width="10.6" height="10.6" fill="#f0f0f0"/>
<rect x="269.6" y="80.9" width="10.6" height="10.6" fill="#f0f0f0"/>
<rect x="269.6" y="94.1" width="10.6" height="10.6" fill="#f0f0f0"/>
<rect x="269.6" y="107.3" width="10.6" height="5.8" fill="#f0f0f0"/>
<rect x="283.4" y="33.0" width="10.6" height="5.6" fill="#f0f0f0"/>
<rect x="283.4" y="41.3" width="10.6" height="10.6" fill="#f0f0f0"/>
<rect x="283.4" y="54.5" width="10.6" height="10.6" fill="#f0f0f0"/>
<rect x="283.4" y="67.7" width="10.6" height="10.6" fill="#f0f0f0"/>
<rect x="283.4" y="80.9" width="10.6" height="10.6" fill="#f0f0f0"/>
<rect x="283.4" y="94.1" width="10.6" height="10.6" fill="#f0f0f0"/>
<rect x="283.4" y="107.3" width="10.6" height="5.8" fill="#f0f0f0"/>
<rect x="297.1" y="33.0" width="10.6" height="5.6" fill="#f0f0f0"/>
<rect x="297.1" y="41.3" width="10.6" height="10.6" fill="#f0f0f0"/>
<rect x="297.1" y="54.5" width="10.6" height="10.6" fill="#f0f0f0"/>
<rect x="297.1" y="67.7" width="10.6" height="10.6" fill="#f0f0f0"/>
<rect x="297.1" y="80.9" width="10.6" height="10.6" fill="#f0f0f0"/>
<rect x="297.1" y="94.1" width="10.6" height="10.6" fill="#f0f0f0"/>
<rect x="297.1" y="107.3" width="10.6" height="5.8" fill="#f0f0f0"/>
<rect x="310.9" y="33.0" width="10.6" height="5.6" fill="#f0f0f0"/>
<rect x="310.9" y="41.3" width="10.6" height="10.6" fill="#f0f0f0"/>
<rect x="310.9" y="54.5" width="10.6" height="10.6" fill="#f0f0f0"/>
<rect x="310.9" y="67.7" width="10.6" height="10.6" fill="#f0f0f0"/>
<rect x="310.9" y="80.9" width="10.6" height="10.6" fill="#f0f0f0"/>
<rect x="310.9" y="94.1" width="10.6" height="10.6" fill="#f0f0f0"/>
<rect x="310.9" y="107.3" width="10.6" height="5.8" fill="#f0f0f0"/>
<rect x="324.6" y="33.0" width="10.6" height="5.6" fill="#f0f0f0"/>
<rect x="324.6" y="41.3" width="10.6" height="10.6" fill="#f0f0f0"/>
<rect x="324.6" y="54.5" width="10.6" height="10.6" fill="#f0f0f0"/>
<rect x="324.6" y="67.7" width="10.6" height="10.6" fill="#f0f0f0"/>
<rect x="324.6" y="80.9" width="10.6" height="10.6" fill="#f0f0f0"/>
<rect x="324.6" y="94.1" width="10.6" height="10.6" fill="#f0f0f0"/>
<rect x="324.6" y="107.3" width="10.6" height="5.8" fill="#f0f0f0"/>
<rect x="337.8" y="41.3" width="5.8" height="10.6" fill="#f0f0f0"/>
<rect x="337.8" y="54.5" width="5.8" height="10.6" fill="#f0f0f0"/>
<rect x="337.8" y="67.7" width="5.8" height="10.6" fill="#f0f0f0"/>
<rect x="337.8" y="80.9" width="5.8" height="10.6" fill="#f0f0f0"/>
<rect x="337.8" y="94.1" width="5.8" height="10.6" fill="#f0f0f0"/>
<rect x="337.8" y="107.3" width="5.8" height="5.8" fill="#f0f0f0"/>
<circle cx="342.6" cy="33" r="2.1" fill="#f6f6f6"/>
<circle cx="346" cy="114.5" r="2" fill="#f6f6f6"/>
<rect x="214" y="53.2" width="89" height="88" fill="#dfe1e8" opacity="0.7"/>
<rect x="217" y="56.3" width="83" height="82" fill="#b3b7c2" opacity="0.5"/>
<rect x="219.3" y="59.0" width="11" height="10.4" fill="#eceef3" opacity="0.85"/>
<path d="M219.8,68.5V59.7H229.8V68.5" fill="none" stroke="#4a4b52" stroke-width="0.9"/>
<path d="M219.8,59.8H229.8" fill="none" stroke="#2a2b30" stroke-width="1.5"/>
<rect x="221.6" y="61.6" width="6.6" height="5.8" fill="none" stroke="#c4c6d0" stroke-width="0.6"/>
<rect x="233.5" y="59.0" width="11" height="10.4" fill="#eceef3" opacity="0.85"/>
<path d="M234.0,68.5V59.7H244.0V68.5" fill="none" stroke="#4a4b52" stroke-width="0.9"/>
<path d="M234.0,59.8H244.0" fill="none" stroke="#2a2b30" stroke-width="1.5"/>
<rect x="235.8" y="61.6" width="6.6" height="5.8" fill="none" stroke="#c4c6d0" stroke-width="0.6"/>
<rect x="247.7" y="59.0" width="11" height="10.4" fill="#eceef3" opacity="0.85"/>
<path d="M248.2,68.5V59.7H258.2V68.5" fill="none" stroke="#4a4b52" stroke-width="0.9"/>
<path d="M248.2,59.8H258.2" fill="none" stroke="#2a2b30" stroke-width="1.5"/>
<rect x="250.0" y="61.6" width="6.6" height="5.8" fill="none" stroke="#c4c6d0" stroke-width="0.6"/>
<rect x="261.9" y="59.0" width="11" height="10.4" fill="#eceef3" opacity="0.85"/>
<path d="M262.4,68.5V59.7H272.4V68.5" fill="none" stroke="#4a4b52" stroke-width="0.9"/>
<path d="M262.4,59.8H272.4" fill="none" stroke="#2a2b30" stroke-width="1.5"/>
<rect x="264.2" y="61.6" width="6.6" height="5.8" fill="none" stroke="#c4c6d0" stroke-width="0.6"/>
<rect x="276.1" y="59.0" width="11" height="10.4" fill="#eceef3" opacity="0.85"/>
<path d="M276.6,68.5V59.7H286.6V68.5" fill="none" stroke="#4a4b52" stroke-width="0.9"/>
<path d="M276.6,59.8H286.6" fill="none" stroke="#2a2b30" stroke-width="1.5"/>
<rect x="278.4" y="61.6" width="6.6" height="5.8" fill="none" stroke="#c4c6d0" stroke-width="0.6"/>
<rect x="290.3" y="59.0" width="11" height="10.4" fill="#eceef3" opacity="0.85"/>
<path d="M290.8,68.5V59.7H300.8V68.5" fill="none" stroke="#4a4b52" stroke-width="0.9"/>
<path d="M290.8,59.8H300.8" fill="none" stroke="#2a2b30" stroke-width="1.5"/>
<rect x="292.6" y="61.6" width="6.6" height="5.8" fill="none" stroke="#c4c6d0" stroke-width="0.6"/>
<rect x="219.3" y="72.7" width="11" height="10.4" fill="#eceef3" opacity="0.85"/>
<path d="M219.8,82.2V73.4H229.8V82.2" fill="none" stroke="#4a4b52" stroke-width="0.9"/>
<path d="M219.8,73.5H229.8" fill="none" stroke="#2a2b30" stroke-width="1.5"/>
<rect x="221.6" y="75.3" width="6.6" height="5.8" fill="none" stroke="#c4c6d0" stroke-width="0.6"/>
<rect x="233.5" y="72.7" width="11" height="10.4" fill="#eceef3" opacity="0.85"/>
<path d="M234.0,82.2V73.4H244.0V82.2" fill="none" stroke="#4a4b52" stroke-width="0.9"/>
<path d="M234.0,73.5H244.0" fill="none" stroke="#2a2b30" stroke-width="1.5"/>
<rect x="235.8" y="75.3" width="6.6" height="5.8" fill="none" stroke="#c4c6d0" stroke-width="0.6"/>
<rect x="247.7" y="72.7" width="11" height="10.4" fill="#eceef3" opacity="0.85"/>
<path d="M248.2,82.2V73.4H258.2V82.2" fill="none" stroke="#4a4b52" stroke-width="0.9"/>
<path d="M248.2,73.5H258.2" fill="none" stroke="#2a2b30" stroke-width="1.5"/>
<rect x="250.0" y="75.3" width="6.6" height="5.8" fill="none" stroke="#c4c6d0" stroke-width="0.6"/>
<rect x="261.9" y="72.7" width="11" height="10.4" fill="#eceef3" opacity="0.85"/>
<path d="M262.4,82.2V73.4H272.4V82.2" fill="none" stroke="#4a4b52" stroke-width="0.9"/>
<path d="M262.4,73.5H272.4" fill="none" stroke="#2a2b30" stroke-width="1.5"/>
<rect x="264.2" y="75.3" width="6.6" height="5.8" fill="none" stroke="#c4c6d0" stroke-width="0.6"/>
<rect x="276.1" y="72.7" width="11" height="10.4" fill="#eceef3" opacity="0.85"/>
<path d="M276.6,82.2V73.4H286.6V82.2" fill="none" stroke="#4a4b52" stroke-width="0.9"/>
<path d="M276.6,73.5H286.6" fill="none" stroke="#2a2b30" stroke-width="1.5"/>
<rect x="278.4" y="75.3" width="6.6" height="5.8" fill="none" stroke="#c4c6d0" stroke-width="0.6"/>
<rect x="290.3" y="72.7" width="11" height="10.4" fill="#eceef3" opacity="0.85"/>
<path d="M290.8,82.2V73.4H300.8V82.2" fill="none" stroke="#4a4b52" stroke-width="0.9"/>
<path d="M290.8,73.5H300.8" fill="none" stroke="#2a2b30" stroke-width="1.5"/>
<rect x="292.6" y="75.3" width="6.6" height="5.8" fill="none" stroke="#c4c6d0" stroke-width="0.6"/>
<rect x="219.3" y="86.4" width="11" height="10.4" fill="#eceef3" opacity="0.85"/>
<path d="M219.8,95.9V87.1H229.8V95.9" fill="none" stroke="#4a4b52" stroke-width="0.9"/>
<path d="M219.8,87.2H229.8" fill="none" stroke="#2a2b30" stroke-width="1.5"/>
<rect x="221.6" y="89.0" width="6.6" height="5.8" fill="none" stroke="#c4c6d0" stroke-width="0.6"/>
<rect x="233.5" y="86.4" width="11" height="10.4" fill="#eceef3" opacity="0.85"/>
<path d="M234.0,95.9V87.1H244.0V95.9" fill="none" stroke="#4a4b52" stroke-width="0.9"/>
<path d="M234.0,87.2H244.0" fill="none" stroke="#2a2b30" stroke-width="1.5"/>
<rect x="235.8" y="89.0" width="6.6" height="5.8" fill="none" stroke="#c4c6d0" stroke-width="0.6"/>
<rect x="247.7" y="86.4" width="11" height="10.4" fill="#eceef3" opacity="0.85"/>
<path d="M248.2,95.9V87.1H258.2V95.9" fill="none" stroke="#4a4b52" stroke-width="0.9"/>
<path d="M248.2,87.2H258.2" fill="none" stroke="#2a2b30" stroke-width="1.5"/>
<rect x="250.0" y="89.0" width="6.6" height="5.8" fill="none" stroke="#c4c6d0" stroke-width="0.6"/>
<rect x="261.9" y="86.4" width="11" height="10.4" fill="#eceef3" opacity="0.85"/>
<path d="M262.4,95.9V87.1H272.4V95.9" fill="none" stroke="#4a4b52" stroke-width="0.9"/>
<path d="M262.4,87.2H272.4" fill="none" stroke="#2a2b30" stroke-width="1.5"/>
<rect x="264.2" y="89.0" width="6.6" height="5.8" fill="none" stroke="#c4c6d0" stroke-width="0.6"/>
<rect x="276.1" y="86.4" width="11" height="10.4" fill="#eceef3" opacity="0.85"/>
<path d="M276.6,95.9V87.1H286.6V95.9" fill="none" stroke="#4a4b52" stroke-width="0.9"/>
<path d="M276.6,87.2H286.6" fill="none" stroke="#2a2b30" stroke-width="1.5"/>
<rect x="278.4" y="89.0" width="6.6" height="5.8" fill="none" stroke="#c4c6d0" stroke-width="0.6"/>
<rect x="290.3" y="86.4" width="11" height="10.4" fill="#eceef3" opacity="0.85"/>
<path d="M290.8,95.9V87.1H300.8V95.9" fill="none" stroke="#4a4b52" stroke-width="0.9"/>
<path d="M290.8,87.2H300.8" fill="none" stroke="#2a2b30" stroke-width="1.5"/>
<rect x="292.6" y="89.0" width="6.6" height="5.8" fill="none" stroke="#c4c6d0" stroke-width="0.6"/>
<rect x="219.3" y="100.1" width="11" height="10.4" fill="#eceef3" opacity="0.85"/>
<path d="M219.8,109.6V100.8H229.8V109.6" fill="none" stroke="#4a4b52" stroke-width="0.9"/>
<path d="M219.8,100.9H229.8" fill="none" stroke="#2a2b30" stroke-width="1.5"/>
<rect x="221.6" y="102.7" width="6.6" height="5.8" fill="none" stroke="#c4c6d0" stroke-width="0.6"/>
<rect x="233.5" y="100.1" width="11" height="10.4" fill="#eceef3" opacity="0.85"/>
<path d="M234.0,109.6V100.8H244.0V109.6" fill="none" stroke="#4a4b52" stroke-width="0.9"/>
<path d="M234.0,100.9H244.0" fill="none" stroke="#2a2b30" stroke-width="1.5"/>
<rect x="235.8" y="102.7" width="6.6" height="5.8" fill="none" stroke="#c4c6d0" stroke-width="0.6"/>
<rect x="247.7" y="100.1" width="11" height="10.4" fill="#eceef3" opacity="0.85"/>
<path d="M248.2,109.6V100.8H258.2V109.6" fill="none" stroke="#4a4b52" stroke-width="0.9"/>
<path d="M248.2,100.9H258.2" fill="none" stroke="#2a2b30" stroke-width="1.5"/>
<rect x="250.0" y="102.7" width="6.6" height="5.8" fill="none" stroke="#c4c6d0" stroke-width="0.6"/>
<rect x="261.9" y="100.1" width="11" height="10.4" fill="#eceef3" opacity="0.85"/>
<path d="M262.4,109.6V100.8H272.4V109.6" fill="none" stroke="#4a4b52" stroke-width="0.9"/>
<path d="M262.4,100.9H272.4" fill="none" stroke="#2a2b30" stroke-width="1.5"/>
<rect x="264.2" y="102.7" width="6.6" height="5.8" fill="none" stroke="#c4c6d0" stroke-width="0.6"/>
<rect x="276.1" y="100.1" width="11" height="10.4" fill="#eceef3" opacity="0.85"/>
<path d="M276.6,109.6V100.8H286.6V109.6" fill="none" stroke="#4a4b52" stroke-width="0.9"/>
<path d="M276.6,100.9H286.6" fill="none" stroke="#2a2b30" stroke-width="1.5"/>
<rect x="278.4" y="102.7" width="6.6" height="5.8" fill="none" stroke="#c4c6d0" stroke-width="0.6"/>
<rect x="290.3" y="100.1" width="11" height="10.4" fill="#eceef3" opacity="0.85"/>
<path d="M290.8,109.6V100.8H300.8V109.6" fill="none" stroke="#4a4b52" stroke-width="0.9"/>
<path d="M290.8,100.9H300.8" fill="none" stroke="#2a2b30" stroke-width="1.5"/>
<rect x="292.6" y="102.7" width="6.6" height="5.8" fill="none" stroke="#c4c6d0" stroke-width="0.6"/>
<rect x="219.3" y="113.8" width="11" height="10.4" fill="#eceef3" opacity="0.85"/>
<path d="M219.8,123.3V114.5H229.8V123.3" fill="none" stroke="#4a4b52" stroke-width="0.9"/>
<path d="M219.8,114.6H229.8" fill="none" stroke="#2a2b30" stroke-width="1.5"/>
<rect x="221.6" y="116.4" width="6.6" height="5.8" fill="none" stroke="#c4c6d0" stroke-width="0.6"/>
<rect x="233.5" y="113.8" width="11" height="10.4" fill="#eceef3" opacity="0.85"/>
<path d="M234.0,123.3V114.5H244.0V123.3" fill="none" stroke="#4a4b52" stroke-width="0.9"/>
<path d="M234.0,114.6H244.0" fill="none" stroke="#2a2b30" stroke-width="1.5"/>
<rect x="235.8" y="116.4" width="6.6" height="5.8" fill="none" stroke="#c4c6d0" stroke-width="0.6"/>
<rect x="247.7" y="113.8" width="11" height="10.4" fill="#eceef3" opacity="0.85"/>
<path d="M248.2,123.3V114.5H258.2V123.3" fill="none" stroke="#4a4b52" stroke-width="0.9"/>
<path d="M248.2,114.6H258.2" fill="none" stroke="#2a2b30" stroke-width="1.5"/>
<rect x="250.0" y="116.4" width="6.6" height="5.8" fill="none" stroke="#c4c6d0" stroke-width="0.6"/>
<rect x="261.9" y="113.8" width="11" height="10.4" fill="#eceef3" opacity="0.85"/>
<path d="M262.4,123.3V114.5H272.4V123.3" fill="none" stroke="#4a4b52" stroke-width="0.9"/>
<path d="M262.4,114.6H272.4" fill="none" stroke="#2a2b30" stroke-width="1.5"/>
<rect x="264.2" y="116.4" width="6.6" height="5.8" fill="none" stroke="#c4c6d0" stroke-width="0.6"/>
<rect x="276.1" y="113.8" width="11" height="10.4" fill="#eceef3" opacity="0.85"/>
<path d="M276.6,123.3V114.5H286.6V123.3" fill="none" stroke="#4a4b52" stroke-width="0.9"/>
<path d="M276.6,114.6H286.6" fill="none" stroke="#2a2b30" stroke-width="1.5"/>
<rect x="278.4" y="116.4" width="6.6" height="5.8" fill="none" stroke="#c4c6d0" stroke-width="0.6"/>
<rect x="290.3" y="113.8" width="11" height="10.4" fill="#eceef3" opacity="0.85"/>
<path d="M290.8,123.3V114.5H300.8V123.3" fill="none" stroke="#4a4b52" stroke-width="0.9"/>
<path d="M290.8,114.6H300.8" fill="none" stroke="#2a2b30" stroke-width="1.5"/>
<rect x="292.6" y="116.4" width="6.6" height="5.8" fill="none" stroke="#c4c6d0" stroke-width="0.6"/>
<rect x="219.3" y="127.5" width="11" height="10.4" fill="#eceef3" opacity="0.85"/>
<path d="M219.8,137.0V128.2H229.8V137.0" fill="none" stroke="#4a4b52" stroke-width="0.9"/>
<path d="M219.8,128.3H229.8" fill="none" stroke="#2a2b30" stroke-width="1.5"/>
<rect x="221.6" y="130.1" width="6.6" height="5.8" fill="none" stroke="#c4c6d0" stroke-width="0.6"/>
<rect x="233.5" y="127.5" width="11" height="10.4" fill="#eceef3" opacity="0.85"/>
<path d="M234.0,137.0V128.2H244.0V137.0" fill="none" stroke="#4a4b52" stroke-width="0.9"/>
<path d="M234.0,128.3H244.0" fill="none" stroke="#2a2b30" stroke-width="1.5"/>
<rect x="235.8" y="130.1" width="6.6" height="5.8" fill="none" stroke="#c4c6d0" stroke-width="0.6"/>
<rect x="247.7" y="127.5" width="11" height="10.4" fill="#eceef3" opacity="0.85"/>
<path d="M248.2,137.0V128.2H258.2V137.0" fill="none" stroke="#4a4b52" stroke-width="0.9"/>
<path d="M248.2,128.3H258.2" fill="none" stroke="#2a2b30" stroke-width="1.5"/>
<rect x="250.0" y="130.1" width="6.6" height="5.8" fill="none" stroke="#c4c6d0" stroke-width="0.6"/>
<rect x="261.9" y="127.5" width="11" height="10.4" fill="#eceef3" opacity="0.85"/>
<path d="M262.4,137.0V128.2H272.4V137.0" fill="none" stroke="#4a4b52" stroke-width="0.9"/>
<path d="M262.4,128.3H272.4" fill="none" stroke="#2a2b30" stroke-width="1.5"/>
<rect x="264.2" y="130.1" width="6.6" height="5.8" fill="none" stroke="#c4c6d0" stroke-width="0.6"/>
<rect x="276.1" y="127.5" width="11" height="10.4" fill="#eceef3" opacity="0.85"/>
<path d="M276.6,137.0V128.2H286.6V137.0" fill="none" stroke="#4a4b52" stroke-width="0.9"/>
<path d="M276.6,128.3H286.6" fill="none" stroke="#2a2b30" stroke-width="1.5"/>
<rect x="278.4" y="130.1" width="6.6" height="5.8" fill="none" stroke="#c4c6d0" stroke-width="0.6"/>
<rect x="290.3" y="127.5" width="11" height="10.4" fill="#eceef3" opacity="0.85"/>
<path d="M290.8,137.0V128.2H300.8V137.0" fill="none" stroke="#4a4b52" stroke-width="0.9"/>
<path d="M290.8,128.3H300.8" fill="none" stroke="#2a2b30" stroke-width="1.5"/>
<rect x="292.6" y="130.1" width="6.6" height="5.8" fill="none" stroke="#c4c6d0" stroke-width="0.6"/>
<rect x="214" y="80.8" width="67" height="60.4" fill="#aeb4c8" opacity="0.15"/>
<rect x="183.3" y="80.8" width="30.7" height="98.2" fill="#f3e98a" opacity="0.2"/>
<rect x="214" y="141.2" width="67" height="37.8" fill="#f3e98a" opacity="0.2"/>
<rect x="184.8" y="82.5" width="94.5" height="94.8" fill="none" stroke="#f1e470" stroke-width="4"/>
<rect x="188.2" y="85.8" width="87.8" height="88.2" fill="none" stroke="#f1e9a2" stroke-width="2.6"/>
<line x1="186" y1="93.5" x2="279" y2="93.5" stroke="#efe282" stroke-width="2"/>
<line x1="186" y1="108" x2="279" y2="108" stroke="#efe282" stroke-width="2"/>
<line x1="186" y1="122.3" x2="279" y2="122.3" stroke="#efe282" stroke-width="2"/>
<line x1="186" y1="136.6" x2="279" y2="136.6" stroke="#efe282" stroke-width="2"/>
<line x1="186" y1="151" x2="279" y2="151" stroke="#efe282" stroke-width="2"/>
<line x1="186" y1="165.3" x2="279" y2="165.3" stroke="#efe282" stroke-width="2"/>
<line x1="195.5" y1="84" x2="195.5" y2="177" stroke="#efe282" stroke-width="2"/>
<line x1="209.8" y1="84" x2="209.8" y2="177" stroke="#efe282" stroke-width="2"/>
<line x1="224.3" y1="84" x2="224.3" y2="177" stroke="#efe282" stroke-width="2"/>
<line x1="238.8" y1="84" x2="238.8" y2="177" stroke="#efe282" stroke-width="2"/>
<line x1="253.3" y1="84" x2="253.3" y2="177" stroke="#efe282" stroke-width="2"/>
<line x1="268" y1="84" x2="268" y2="177" stroke="#efe282" stroke-width="2"/>
<circle cx="195.5" cy="93.5" r="4.8" fill="#eeeff5" stroke="#e8a07e" stroke-width="1"/>
<circle cx="209.8" cy="93.5" r="4.8" fill="#eeeff5" stroke="#e8a07e" stroke-width="1"/>
<circle cx="224.3" cy="93.5" r="4.8" fill="#adb4c8" stroke="#e8a07e" stroke-width="1"/>
<circle cx="223.70000000000002" cy="92.9" r="2" fill="#ffffff" opacity="0.18"/>
<circle cx="238.8" cy="93.5" r="4.8" fill="#adb4c8" stroke="#e8a07e" stroke-width="1"/>
<circle cx="238.20000000000002" cy="92.9" r="2" fill="#ffffff" opacity="0.18"/>
<circle cx="253.3" cy="93.5" r="4.8" fill="#adb4c8" stroke="#e8a07e" stroke-width="1"/>
<circle cx="252.70000000000002" cy="92.9" r="2" fill="#ffffff" opacity="0.18"/>
<circle cx="268" cy="93.5" r="4.8" fill="#c6c08a" stroke="#e8a07e" stroke-width="1"/>
<circle cx="267.4" cy="92.9" r="2" fill="#ffffff" opacity="0.18"/>
<circle cx="195.5" cy="108" r="4.8" fill="#eeeff5" stroke="#e8a07e" stroke-width="1"/>
<circle cx="209.8" cy="108" r="4.8" fill="#eeeff5" stroke="#e8a07e" stroke-width="1"/>
<circle cx="224.3" cy="108" r="4.8" fill="#adb4c8" stroke="#e8a07e" stroke-width="1"/>
<circle cx="223.70000000000002" cy="107.4" r="2" fill="#ffffff" opacity="0.18"/>
<circle cx="238.8" cy="108" r="4.8" fill="#adb4c8" stroke="#e8a07e" stroke-width="1"/>
<circle cx="238.20000000000002" cy="107.4" r="2" fill="#ffffff" opacity="0.18"/>
<circle cx="253.3" cy="108" r="4.8" fill="#adb4c8" stroke="#e8a07e" stroke-width="1"/>
<circle cx="252.70000000000002" cy="107.4" r="2" fill="#ffffff" opacity="0.18"/>
<circle cx="268" cy="108" r="4.8" fill="#c6c08a" stroke="#e8a07e" stroke-width="1"/>
<circle cx="267.4" cy="107.4" r="2" fill="#ffffff" opacity="0.18"/>
<circle cx="195.5" cy="122.3" r="4.8" fill="#eeeff5" stroke="#e8a07e" stroke-width="1"/>
<circle cx="209.8" cy="122.3" r="4.8" fill="#eeeff5" stroke="#e8a07e" stroke-width="1"/>
<circle cx="224.3" cy="122.3" r="4.8" fill="#adb4c8" stroke="#e8a07e" stroke-width="1"/>
<circle cx="223.70000000000002" cy="121.7" r="2" fill="#ffffff" opacity="0.18"/>
<circle cx="238.8" cy="122.3" r="4.8" fill="#adb4c8" stroke="#e8a07e" stroke-width="1"/>
<circle cx="238.20000000000002" cy="121.7" r="2" fill="#ffffff" opacity="0.18"/>
<circle cx="253.3" cy="122.3" r="4.8" fill="#adb4c8" stroke="#e8a07e" stroke-width="1"/>
<circle cx="252.70000000000002" cy="121.7" r="2" fill="#ffffff" opacity="0.18"/>
<circle cx="268" cy="122.3" r="4.8" fill="#adb4c8" stroke="#e8a07e" stroke-width="1"/>
<circle cx="267.4" cy="121.7" r="2" fill="#ffffff" opacity="0.18"/>
<circle cx="195.5" cy="136.6" r="4.8" fill="#eeeff5" stroke="#e8a07e" stroke-width="1"/>
<circle cx="209.8" cy="136.6" r="4.8" fill="#eeeff5" stroke="#e8a07e" stroke-width="1"/>
<circle cx="224.3" cy="136.6" r="4.8" fill="#adb4c8" stroke="#e8a07e" stroke-width="1"/>
<circle cx="223.70000000000002" cy="136.0" r="2" fill="#ffffff" opacity="0.18"/>
<circle cx="238.8" cy="136.6" r="4.8" fill="#adb4c8" stroke="#e8a07e" stroke-width="1"/>
<circle cx="238.20000000000002" cy="136.0" r="2" fill="#ffffff" opacity="0.18"/>
<circle cx="253.3" cy="136.6" r="4.8" fill="#adb4c8" stroke="#e8a07e" stroke-width="1"/>
<circle cx="252.70000000000002" cy="136.0" r="2" fill="#ffffff" opacity="0.18"/>
<circle cx="268" cy="136.6" r="4.8" fill="#adb4c8" stroke="#e8a07e" stroke-width="1"/>
<circle cx="267.4" cy="136.0" r="2" fill="#ffffff" opacity="0.18"/>
<circle cx="195.5" cy="151" r="4.8" fill="#eeeff5" stroke="#e8a07e" stroke-width="1"/>
<circle cx="209.8" cy="151" r="4.8" fill="#eeeff5" stroke="#e8a07e" stroke-width="1"/>
<circle cx="224.3" cy="151" r="4.8" fill="#eeeff5" stroke="#e8a07e" stroke-width="1"/>
<circle cx="238.8" cy="151" r="4.8" fill="#eeeff5" stroke="#e8a07e" stroke-width="1"/>
<circle cx="253.3" cy="151" r="4.8" fill="#eeeff5" stroke="#e8a07e" stroke-width="1"/>
<circle cx="268" cy="151" r="4.8" fill="#eeeff5" stroke="#e8a07e" stroke-width="1"/>
<circle cx="195.5" cy="165.3" r="4.8" fill="#eeeff5" stroke="#e8a07e" stroke-width="1"/>
<circle cx="209.8" cy="165.3" r="4.8" fill="#eeeff5" stroke="#e8a07e" stroke-width="1"/>
<circle cx="224.3" cy="165.3" r="4.8" fill="#eeeff5" stroke="#e8a07e" stroke-width="1"/>
<circle cx="238.8" cy="165.3" r="4.8" fill="#eeeff5" stroke="#e8a07e" stroke-width="1"/>
<circle cx="253.3" cy="165.3" r="4.8" fill="#eeeff5" stroke="#e8a07e" stroke-width="1"/>
<circle cx="268" cy="165.3" r="4.8" fill="#eeeff5" stroke="#e8a07e" stroke-width="1"/>
<circle cx="187.5" cy="85" r="1.6" fill="#f8f8f8"/>
<circle cx="275.6" cy="84.7" r="1.6" fill="#f8f8f8"/>
<circle cx="278" cy="175.8" r="1.6" fill="#f8f8f8"/>
<path d="M341,117 C337,133 337,160 342,175 S348,188 350,194" fill="none" stroke="#c8402c" stroke-width="1.3"/>
</g>
<g><rect x="169" y="128" width="72.5" height="65" fill="#f3f3f1"/><rect x="171" y="128.5" width="69" height="12" fill="#e8e8e6"/><rect x="171" y="140" width="69" height="10" fill="#ebe3a6"/><path d="M180.4,165.0 A27.2,20.8 0 0 1 234.8,165.0" fill="none" stroke="#c9c9c9" stroke-width="3.2"/><rect x="175.5" y="133" width="2.8" height="37" fill="#4a4a4a"/><rect x="231.8" y="131" width="2.8" height="39" fill="#4a4a4a"/><rect x="171" y="163.2" width="69" height="3" fill="#e9a896"/><rect x="177" y="170" width="59" height="16" rx="2" fill="#262628"/><rect x="177" y="170" width="59" height="2.5" fill="#4a4a4c"/><rect x="212" y="184.8" width="24" height="5.4" rx="2" fill="#dcdcdc"/><rect x="205.0" y="128.5" width="5" height="18.9" fill="#eab4a4"/><ellipse cx="207.6" cy="165.0" rx="22.5" ry="16.1" fill="#fbfbfb"/><rect x="204.6" y="147.4" width="6" height="21.6" fill="#ece3a0"/><clipPath id="ringin"><ellipse cx="207.6" cy="165.0" rx="22.5" ry="16.1"/></clipPath><rect x="183.6" y="170.5" width="48.0" height="20" fill="#202022" clip-path="url(#ringin)"/><ellipse cx="207.6" cy="165.0" rx="24.0" ry="17.6" fill="none" stroke="#e9a48e" stroke-width="3.8"/></g>
<path d="M169,128.3H241.6V192.5" fill="none" stroke="#151515" stroke-width="1.6"/>
<rect x="169" y="23" width="191" height="170" fill="none" stroke="#2a2a2a" stroke-width="1.8"/>
<g class="serif" font-size="9" fill="#151515" stroke="#151515" stroke-width="0.3"><text x="175" y="34.9" textLength="76" lengthAdjust="spacingAndGlyphs">Corona electrode plate</text><text x="311.8" y="124" textLength="28.2" lengthAdjust="spacingAndGlyphs">Shielding</text><text x="319.7" y="133.2" textLength="16.6" lengthAdjust="spacingAndGlyphs">layer</text><text x="295" y="147.6" textLength="31.2" lengthAdjust="spacingAndGlyphs">Collector</text><text x="286.9" y="157.7" textLength="46.8" lengthAdjust="spacingAndGlyphs">electrode plate</text><text x="274" y="188.2" textLength="73.6" lengthAdjust="spacingAndGlyphs">Electric shielding tape</text></g><g class="serif" font-size="9.2" fill="#fff" stroke="#fff" stroke-width="1.8" stroke-linejoin="round" opacity="0.85"><text x="171.5" y="134.6" textLength="50" lengthAdjust="spacingAndGlyphs">Shielding layer</text><text x="180.8" y="144" textLength="32" lengthAdjust="spacingAndGlyphs">(PMMA)</text><text x="170.7" y="162" textLength="23.4" lengthAdjust="spacingAndGlyphs">Needle</text><text x="171.5" y="190" textLength="28" lengthAdjust="spacingAndGlyphs">Cylinder</text></g><g class="serif" font-size="9.2" fill="#111" stroke="#111" stroke-width="0.35"><text x="171.5" y="134.6" textLength="50" lengthAdjust="spacingAndGlyphs">Shielding layer</text><text x="180.8" y="144" textLength="32" lengthAdjust="spacingAndGlyphs">(PMMA)</text><text x="170.7" y="162" textLength="23.4" lengthAdjust="spacingAndGlyphs">Needle</text><text x="171.5" y="190" textLength="28" lengthAdjust="spacingAndGlyphs">Cylinder</text></g>
<g stroke="#111" stroke-width="1.1" fill="none"><path d="M254.4,32.3H273"/><path d="M310,129.3H296L290.5,114"/><path d="M286,151.2H276.5L267.2,131"/><path d="M269.8,186.9H244L236,181"/><path d="M194,161.2H207V153"/><path d="M200,188.6H211.3V184"/><path d="M221.5,133.3H223.5"/><path d="M212.9,141.6H226V135"/></g><g fill="#111"><path d="M278,32.3l-5.5,-2.4v4.8z"/><path d="M289.7,110.5l-1.2,4.8l4.2,-1.4z"/><path d="M265.8,127.5l-0.2,5l4,-1.9z"/><path d="M233,178.4l2,4.5l2.6,-3.6z"/><path d="M207,149.4l-2.3,4.4h4.6z"/><path d="M211.3,180.8l-2.3,4.2h4.6z"/><path d="M226,131l-2.3,4.4h4.6z"/></g>
</g>
<text x="172.5" y="11.6" class="sans" font-size="14" fill="#111" stroke="#111" stroke-width="0.25">(a)</text>
<g id="chart">
<text x="543.2" y="11.6" class="sans" font-size="14" fill="#111" stroke="#111" stroke-width="0.3" text-anchor="middle">(b)</text>
<path d="M410.3,28H675.7V217.8H410.3Z" fill="none" stroke="#7a7a7a" stroke-width="1.6"/>
<path d="M434.2,217.2v-2.6M434.2,28.6v2.4M458.3,217.2v-2.6M458.3,28.6v2.4M482.5,217.2v-2.6M482.5,28.6v2.4M506.6,217.2v-2.6M506.6,28.6v2.4M530.8,217.2v-2.6M530.8,28.6v2.4M555.0,217.2v-2.6M555.0,28.6v2.4M579.1,217.2v-2.6M579.1,28.6v2.4M603.2,217.2v-2.6M603.2,28.6v2.4M627.4,217.2v-2.6M627.4,28.6v2.4M651.5,217.2v-2.6M651.5,28.6v2.4M410.9,183.5h2.4M410.9,150.0h2.4M410.9,116.5h2.4M410.9,83.0h2.4M410.9,49.5h2.4M675.1,154.0h-2.4M675.1,91.0h-2.4" stroke="#444" stroke-width="1.2" fill="none"/>
<g class="serif" font-size="12" fill="#222" stroke="#222" stroke-width="0.35"><text x="434.2" y="232.3" text-anchor="middle">6</text><text x="482.5" y="232.3" text-anchor="middle">7</text><text x="530.8" y="232.3" text-anchor="middle">8</text><text x="579.1" y="232.3" text-anchor="middle">9</text><text x="627.4" y="232.3" text-anchor="middle">10</text><text x="675.7" y="232.3" text-anchor="middle">11</text><text x="403.6" y="220.1" text-anchor="end">0.0</text><text x="403.6" y="186.6" text-anchor="end">0.5</text><text x="403.6" y="153.1" text-anchor="end">1.0</text><text x="403.6" y="119.6" text-anchor="end">1.5</text><text x="403.6" y="86.1" text-anchor="end">2.0</text><text x="403.6" y="52.6" text-anchor="end">2.5</text><text x="682" y="221.0">0.0</text><text x="682" y="158.0">0.5</text><text x="682" y="95.0">1.0</text><text x="682" y="32.0">1.5</text></g>
<g class="serif" fill="#222" stroke="#222" stroke-width="0.3">
<text x="513" y="250.3" font-size="15" font-style="italic">V</text>
<text x="524.6" y="250.3" font-size="15" textLength="26.5" lengthAdjust="spacingAndGlyphs">[kV]</text>
<text transform="translate(375.5,150.8) rotate(-90)" font-size="16" font-style="italic">U</text>
<text transform="translate(378.6,137.8) rotate(-90)" font-size="10" font-style="italic" textLength="10.6" lengthAdjust="spacingAndGlyphs">ave</text>
<text transform="translate(375.2,122) rotate(-90)" font-size="16" textLength="29.2" lengthAdjust="spacingAndGlyphs">[m/s]</text>
<text transform="translate(718.7,156.9) rotate(-90)" font-size="15" font-style="italic">Q</text>
<text transform="translate(718.7,141.6) rotate(-90)" font-size="15" textLength="13.8" lengthAdjust="spacingAndGlyphs">[m</text>
<text transform="translate(713.2,127.2) rotate(-90)" font-size="9">3</text>
<text transform="translate(718.7,121.3) rotate(-90)" font-size="15" textLength="30" lengthAdjust="spacingAndGlyphs">/min]</text>
</g>
<polyline points="434.2,160.5 458.3,146.4 482.5,135.9 506.6,125.3 530.8,115.8 555.0,107.4 579.1,87.3 603.2,72.2 627.4,61.0 651.5,58.1" fill="none" stroke="#1c1c1c" stroke-width="1.4"/>
<polyline points="434.2,168.6 458.3,155.6 482.5,145.7 506.6,142.2 530.8,131.7 555.0,115.1 579.1,96.1 603.2,81.7 627.4,73.3 651.5,67.6" fill="none" stroke="#1c1c1c" stroke-width="1.4"/>
<polyline points="434.2,182.7 458.3,180.2 482.5,173.9 506.6,170.3 530.8,165.8 555.0,156.3 579.1,145.7 603.2,135.2 627.4,129.9 651.5,123.6" fill="none" stroke="#1c1c1c" stroke-width="1.4"/>
<path d="M434.2,155.5V165.5M431.7,155.5h5M431.7,165.5h5" stroke="#333" stroke-width="0.9" fill="none"/>
<path d="M458.3,141.4V151.4M455.8,141.4h5M455.8,151.4h5" stroke="#333" stroke-width="0.9" fill="none"/>
<path d="M482.5,130.9V140.9M480.0,130.9h5M480.0,140.9h5" stroke="#333" stroke-width="0.9" fill="none"/>
<path d="M506.6,119.3V131.3M504.1,119.3h5M504.1,131.3h5" stroke="#333" stroke-width="0.9" fill="none"/>
<path d="M530.8,110.8V120.8M528.3,110.8h5M528.3,120.8h5" stroke="#333" stroke-width="0.9" fill="none"/>
<path d="M555.0,104.4V110.4M552.5,104.4h5M552.5,110.4h5" stroke="#333" stroke-width="0.9" fill="none"/>
<path d="M579.1,81.3V93.3M576.6,81.3h5M576.6,93.3h5" stroke="#333" stroke-width="0.9" fill="none"/>
<path d="M603.2,67.2V77.2M600.8,67.2h5M600.8,77.2h5" stroke="#333" stroke-width="0.9" fill="none"/>
<path d="M627.4,55.0V67.0M624.9,55.0h5M624.9,67.0h5" stroke="#333" stroke-width="0.9" fill="none"/>
<path d="M651.5,38.1V78.1M649.0,38.1h5M649.0,78.1h5" stroke="#333" stroke-width="0.9" fill="none"/>
<path d="M434.2,181.7V183.7M431.7,181.7h5M431.7,183.7h5" stroke="#333" stroke-width="0.9" fill="none"/>
<path d="M458.3,179.2V181.2M455.8,179.2h5M455.8,181.2h5" stroke="#333" stroke-width="0.9" fill="none"/>
<path d="M482.5,171.9V175.9M480.0,171.9h5M480.0,175.9h5" stroke="#333" stroke-width="0.9" fill="none"/>
<path d="M506.6,166.3V174.3M504.1,166.3h5M504.1,174.3h5" stroke="#333" stroke-width="0.9" fill="none"/>
<path d="M530.8,163.8V167.8M528.3,163.8h5M528.3,167.8h5" stroke="#333" stroke-width="0.9" fill="none"/>
<path d="M555.0,154.3V158.3M552.5,154.3h5M552.5,158.3h5" stroke="#333" stroke-width="0.9" fill="none"/>
<path d="M579.1,143.7V147.7M576.6,143.7h5M576.6,147.7h5" stroke="#333" stroke-width="0.9" fill="none"/>
<path d="M603.2,130.2V140.2M600.8,130.2h5M600.8,140.2h5" stroke="#333" stroke-width="0.9" fill="none"/>
<path d="M627.4,125.9V133.9M624.9,125.9h5M624.9,133.9h5" stroke="#333" stroke-width="0.9" fill="none"/>
<path d="M651.5,120.6V126.6M649.0,120.6h5M649.0,126.6h5" stroke="#333" stroke-width="0.9" fill="none"/>
<path d="M434.2,166.6V170.6M431.7,166.6h5M431.7,170.6h5" stroke="#333" stroke-width="0.9" fill="none"/>
<path d="M458.3,152.6V158.6M455.8,152.6h5M455.8,158.6h5" stroke="#333" stroke-width="0.9" fill="none"/>
<path d="M482.5,142.7V148.7M480.0,142.7h5M480.0,148.7h5" stroke="#333" stroke-width="0.9" fill="none"/>
<path d="M506.6,139.2V145.2M504.1,139.2h5M504.1,145.2h5" stroke="#333" stroke-width="0.9" fill="none"/>
<path d="M530.8,129.7V133.7M528.3,129.7h5M528.3,133.7h5" stroke="#333" stroke-width="0.9" fill="none"/>
<path d="M555.0,113.1V117.1M552.5,113.1h5M552.5,117.1h5" stroke="#333" stroke-width="0.9" fill="none"/>
<path d="M579.1,93.1V99.1M576.6,93.1h5M576.6,99.1h5" stroke="#333" stroke-width="0.9" fill="none"/>
<path d="M603.2,76.7V86.7M600.8,76.7h5M600.8,86.7h5" stroke="#333" stroke-width="0.9" fill="none"/>
<path d="M627.4,68.3V78.3M624.9,68.3h5M624.9,78.3h5" stroke="#333" stroke-width="0.9" fill="none"/>
<path d="M651.5,56.6V78.6M649.0,56.6h5M649.0,78.6h5" stroke="#333" stroke-width="0.9" fill="none"/>
<circle cx="434.2" cy="160.5" r="3" fill="#fff" stroke="#111" stroke-width="1"/>
<circle cx="458.3" cy="146.4" r="3" fill="#fff" stroke="#111" stroke-width="1"/>
<circle cx="482.5" cy="135.9" r="3" fill="#fff" stroke="#111" stroke-width="1"/>
<circle cx="506.6" cy="125.3" r="3" fill="#fff" stroke="#111" stroke-width="1"/>
<circle cx="530.8" cy="115.8" r="3" fill="#fff" stroke="#111" stroke-width="1"/>
<circle cx="555.0" cy="107.4" r="3" fill="#fff" stroke="#111" stroke-width="1"/>
<circle cx="579.1" cy="87.3" r="3" fill="#fff" stroke="#111" stroke-width="1"/>
<circle cx="603.2" cy="72.2" r="3" fill="#fff" stroke="#111" stroke-width="1"/>
<circle cx="627.4" cy="61.0" r="3" fill="#fff" stroke="#111" stroke-width="1"/>
<circle cx="651.5" cy="58.1" r="3" fill="#fff" stroke="#111" stroke-width="1"/>
<circle cx="434.2" cy="168.6" r="3" fill="#111" stroke="#111" stroke-width="0.8"/>
<circle cx="458.3" cy="155.6" r="3" fill="#111" stroke="#111" stroke-width="0.8"/>
<circle cx="482.5" cy="145.7" r="3" fill="#111" stroke="#111" stroke-width="0.8"/>
<circle cx="506.6" cy="142.2" r="3" fill="#111" stroke="#111" stroke-width="0.8"/>
<circle cx="530.8" cy="131.7" r="3" fill="#111" stroke="#111" stroke-width="0.8"/>
<circle cx="555.0" cy="115.1" r="3" fill="#111" stroke="#111" stroke-width="0.8"/>
<circle cx="579.1" cy="96.1" r="3" fill="#111" stroke="#111" stroke-width="0.8"/>
<circle cx="603.2" cy="81.7" r="3" fill="#111" stroke="#111" stroke-width="0.8"/>
<circle cx="627.4" cy="73.3" r="3" fill="#111" stroke="#111" stroke-width="0.8"/>
<circle cx="651.5" cy="67.6" r="3" fill="#111" stroke="#111" stroke-width="0.8"/>
<path d="M434.2,179.4L437.5,185.2H430.9Z" fill="#fff" stroke="#111" stroke-width="1"/>
<path d="M458.3,176.9L461.6,182.7H455.0Z" fill="#fff" stroke="#111" stroke-width="1"/>
<path d="M482.5,170.6L485.8,176.4H479.2Z" fill="#fff" stroke="#111" stroke-width="1"/>
<path d="M506.6,167.0L509.9,172.8H503.3Z" fill="#fff" stroke="#111" stroke-width="1"/>
<path d="M530.8,162.5L534.1,168.3H527.5Z" fill="#fff" stroke="#111" stroke-width="1"/>
<path d="M555.0,153.0L558.2,158.8H551.7Z" fill="#fff" stroke="#111" stroke-width="1"/>
<path d="M579.1,142.4L582.4,148.2H575.8Z" fill="#fff" stroke="#111" stroke-width="1"/>
<path d="M603.2,131.9L606.5,137.7H600.0Z" fill="#fff" stroke="#111" stroke-width="1"/>
<path d="M627.4,126.6L630.7,132.4H624.1Z" fill="#fff" stroke="#111" stroke-width="1"/>
<path d="M651.5,120.3L654.8,126.1H648.2Z" fill="#fff" stroke="#111" stroke-width="1"/>
<rect x="413.7" y="32.5" width="175.8" height="43.5" fill="#fff" stroke="#555" stroke-width="1"/>
<g stroke="#111" stroke-width="1.5"><path d="M420,43H439M420,54.5H439M420,65.5H439"/></g>
<path d="M429,39.7L432.3,45.5H425.7Z" fill="#fff" stroke="#111" stroke-width="1"/>
<circle cx="429" cy="54.5" r="3" fill="#fff" stroke="#111" stroke-width="1"/>
<circle cx="429" cy="65.5" r="3" fill="#111"/>
<g class="serif" font-size="10.2" fill="#1a1a1a" stroke="#1a1a1a" stroke-width="0.3">
<text x="444.6" y="46.1" textLength="50.6" lengthAdjust="spacingAndGlyphs">No shield layer</text>
<text x="444.6" y="57.4" textLength="129.2" lengthAdjust="spacingAndGlyphs">Shield layer with electric shielding tape</text>
<text x="444.6" y="68.1" textLength="139.7" lengthAdjust="spacingAndGlyphs">Shield layer without electric shielding tape</text>
</g>
</g>
</svg>
</body></html>
